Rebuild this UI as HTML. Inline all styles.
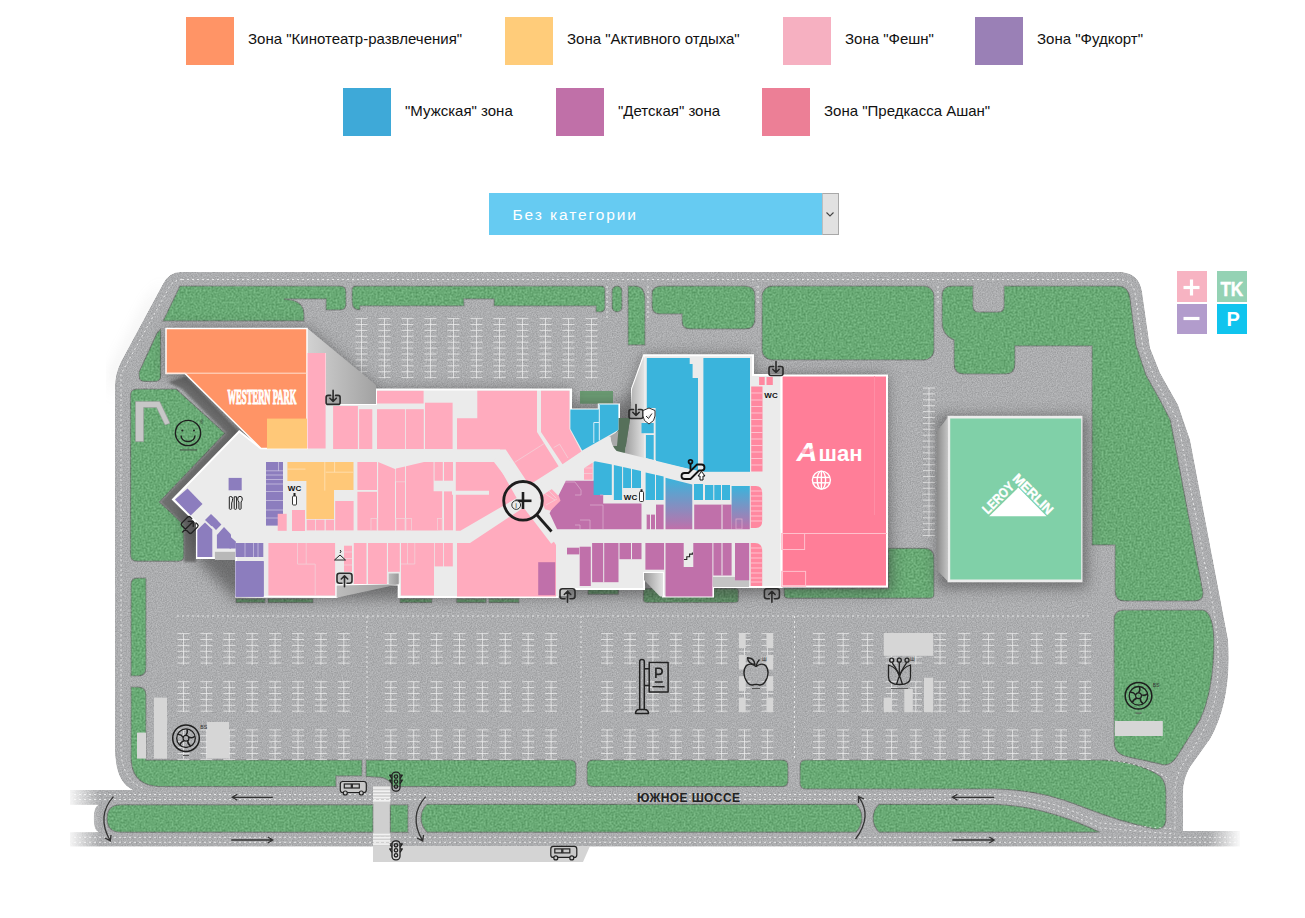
<!DOCTYPE html>
<html><head><meta charset="utf-8"><title>map</title>
<style>
html,body{margin:0;padding:0;background:#fff;}
body{width:1305px;height:918px;overflow:hidden;position:relative;font-family:"Liberation Sans",sans-serif;}
.sq{position:absolute;width:48px;height:48px}
.lb{position:absolute;font-size:15px;line-height:17px;color:#111;white-space:nowrap}
.dd{position:absolute;left:489px;top:193px;width:334px;height:42px;background:#66cbf2}
.dd span{position:absolute;left:23.5px;top:12.6px;font-size:15.5px;line-height:17px;color:#fff;letter-spacing:1.9px;white-space:nowrap}
.btn{position:absolute;left:822px;top:193px;width:15px;height:40px;background:#e1e1e1;border:1px solid #a8a8a8;border-left:1px solid #bdbdbd}
</style></head><body>
<div class="sq" style="left:186px;top:17px;background:#ff9466"></div><div class="lb" style="left:248px;top:30.3px">Зона "Кинотеатр-развлечения"</div>
<div class="sq" style="left:505px;top:17px;background:#ffcc7a"></div><div class="lb" style="left:567px;top:30.3px">Зона "Активного отдыха"</div>
<div class="sq" style="left:783px;top:17px;background:#f6b0c1"></div><div class="lb" style="left:845px;top:30.3px">Зона "Фешн"</div>
<div class="sq" style="left:975px;top:17px;background:#9a80b6"></div><div class="lb" style="left:1037px;top:30.3px">Зона "Фудкорт"</div>
<div class="sq" style="left:343px;top:88px;background:#3ea9d8"></div><div class="lb" style="left:405px;top:102.3px">"Мужская" зона</div>
<div class="sq" style="left:556px;top:88px;background:#c070a8"></div><div class="lb" style="left:618px;top:102.3px">"Детская" зона</div>
<div class="sq" style="left:762px;top:88px;background:#ec7f96"></div><div class="lb" style="left:824px;top:102.3px">Зона "Предкасса Ашан"</div>
<div class="dd"><span>Без категории</span></div>
<div class="btn"><svg width="14" height="40" style="position:absolute;left:0;top:0"><path d="M3.5,18.5 L7,22 L10.5,18.5" fill="none" stroke="#444" stroke-width="1.1"/></svg></div>
<svg width="1305" height="918" viewBox="0 0 1305 918" style="position:absolute;left:0;top:0"><defs><filter id="tex" filterUnits="userSpaceOnUse" x="0" y="250" width="1305" height="640" color-interpolation-filters="sRGB"><feTurbulence type="fractalNoise" baseFrequency="0.5" numOctaves="3" seed="4" result="n"/><feColorMatrix in="n" type="matrix" values="1 0 0 0 0  1 0 0 0 0  1 0 0 0 0  0 0 0 0 1" result="g"/><feComposite in="SourceGraphic" in2="g" operator="arithmetic" k1="0" k2="1" k3="0.28" k4="-0.14" result="m"/><feComposite in="m" in2="SourceGraphic" operator="in"/></filter><filter id="tex2" filterUnits="userSpaceOnUse" x="0" y="250" width="1305" height="640" color-interpolation-filters="sRGB"><feTurbulence type="fractalNoise" baseFrequency="0.8" numOctaves="2" seed="9" result="n"/><feColorMatrix in="n" type="matrix" values="1 0 0 0 0  1 0 0 0 0  1 0 0 0 0  0 0 0 0 1" result="g"/><feComposite in="SourceGraphic" in2="g" operator="arithmetic" k1="0" k2="1" k3="0.22" k4="-0.11" result="m"/><feComposite in="m" in2="SourceGraphic" operator="in"/></filter></defs>
<polygon points="118,372 165,282 150,300 112,372 112,400" fill="#999" opacity="0.25" filter="url(#blur6)"/>
<path d="M180,272 L1118,272 Q1139,272 1142,292 L1150,348 L1160,373 L1178,405 L1190,440 L1228,640 Q1232,700 1210,739 L1190,767 Q1183,779 1183,792 L1183,831 L1240,831 L1240,846.5 L70,846.5 L70,832.3 L100,832.3 Q93.8,832 93.8,818.5 Q93.8,805 100,804.8 L70,804.8 L70,790 L133,790 Q115,782 115,748 L115,388 Q115,374 121,362 L163,284 Q169,272 181,272 Z" fill="#acadaf" filter="url(#tex2)"/>
<path d="M373,846 L590,846 L583,862 L373,862 Z" fill="#d4d4d4" />
<rect x="373" y="786" width="17.2" height="60" fill="#cfcfcf" />
<polygon points="168,382 186,376 239.3,431.9 173,499.5 196,522 196,562 184,562 184,525 160,502 226,433 182,389" fill="#656565" opacity="0.85" filter="url(#blur1)"/>
<g stroke="#727272" stroke-width="1.4" stroke-opacity="0.55" filter="url(#tex)">
<path d="M180,286 L340,286 Q346,286 346,292 L346,304 Q346,310 340,310 L326,310 L326,299 L284,299 Q304,300 304,314 L304,321 L163,321 Z" fill="#69aa75" />
<path d="M356,286 L601,286 Q605,286 605,290 L605,307 Q605,312 600,312 L596,312 L596,306 L494,306 L494,299 L464,299 L464,306 L360,306 L360,310 Q352,310 352,302 L352,290 Q352,286 356,286 Z" fill="#69aa75" />
<rect x="612" y="286" width="10" height="26" fill="#69aa75" rx="5" />
<path d="M628,286 L635,286 Q645,286 645,300 L645,345 L628,345 Z" fill="#69aa75" />
<path d="M662,286 L745,286 Q755,286 755,296 L755,319 Q755,329 745,329 L690,329 Q682,329 682,321 L682,314 L660,314 Q652,314 652,306 L652,294 Q652,286 662,286 Z" fill="#69aa75" />
<rect x="762" y="286" width="172" height="74" fill="#69aa75" rx="10" />
<path d="M952,286 L973,286 L973,306 Q973,312 979,312 L998,312 Q1004,312 1004,306 L1004,286 L1118,286 Q1128,286 1130,298 L1136,345 L1146,375 L1160,400 L1170.4,420 L1203,592 Q1204,601 1194,601 L1125,601 Q1115,601 1115,591 L1115,545 L1092,545 L1092,346 L1015,346 L1015,364 Q1015,374 1005,374 L964,374 Q954,374 954,364 L954,340 Q942,335 942,322 L942,296 Q942,286 952,286 Z" fill="#69aa75" />
<path d="M1124,610 L1203,610 Q1213,612 1214,640 Q1214,690 1200,720 L1178,755 Q1170,768 1160,764 L1128,757 Q1114,754 1114,742 L1114,620 Q1114,610 1124,610 Z" fill="#69aa75" />
<path d="M137,389 L176.3,389 L225,433.2 L159.5,501.9 L183.9,524.7 L183.9,556 Q183.9,561.3 178,561.3 L137,561.3 Q130.5,561.3 130.5,555 L130.5,395 Q130.5,389 137,389 Z" fill="#69aa75" />
<path d="M160.8,329 L160.8,376 Q160.8,381.4 155,381.4 L144,381.4 Q139,381.4 139,376 L139,372 L157,333 Z" fill="#69aa75" />
<path d="M131,584 Q131,578 137,578 L146,578 L146,668 Q146,676 138,676 L131,676 Z" fill="#69aa75" />
<path d="M131,687 L138,687 Q146,687 146,695 L146,760 L362,760 L362,776 L336,776 L336,786.6 L160,786.6 Q131,786 131,757 Z" fill="#69aa75" />
<path d="M366,760 L570,760 Q576,760 576,766 L576,781 Q576,786.6 570,786.6 L393,786.6 Q389,778.5 381,777.5 L366,776.5 Z" fill="#69aa75" />
<path d="M593,760 L782,760 Q788,760 788,766 L788,781 Q788,786.6 782,786.6 L593,786.6 Q587,786.6 587,781 L587,766 Q587,760 593,760 Z" fill="#69aa75" />
<path d="M806,760 L1105,760 Q1140,762 1160,776 Q1166,782 1166,792 L1166,818 Q1166,830 1155,829 Q1120,822 1080,806 Q1040,790 995,789 L806,789 Q800,789 800,783 L800,766 Q800,760 806,760 Z" fill="#69aa75" />
<path d="M120.7,804.8 L373,804.8 L373,832.3 L120.7,832.3 Q107,832.3 107,818.5 Q107,804.8 120.7,804.8 Z" fill="#69aa75" />
<rect x="390.2" y="804.8" width="17.8" height="27.5" fill="#69aa75" />
<path d="M427,804.3 L856,804.3 Q862,810 862,818 Q862,826 856,832.3 L427,832.3 Q421,826 421,818 Q421,810 427,804.3 Z" fill="#69aa75" />
<path d="M879,804.3 L995,804.3 Q1045,806 1100,832.3 L879,832.3 Q873,826 873,818 Q873,810 879,804.3 Z" fill="#69aa75" />
<path d="M888.4,548.2 L924,548.2 Q934,548.2 934,558 L934,594 Q934,598.3 930,598.3 L788,598.3 Q784.1,598.3 784.1,594 L784.1,588.6 L888.4,588.6 Z" fill="#69aa75" />
<rect x="643.4" y="588.6" width="95" height="14" fill="#5f8f66" rx="3" />
<rect x="236" y="598.8" width="29" height="3.8" fill="#5f8f66" />
<rect x="268" y="598.8" width="45" height="3.8" fill="#5f8f66" />
<rect x="400" y="598.8" width="32" height="3.8" fill="#5f8f66" />
<rect x="456.6" y="598.8" width="29.399999999999977" height="3.8" fill="#5f8f66" />
<rect x="489" y="598.8" width="30" height="3.8" fill="#5f8f66" />
<rect x="588" y="588.7" width="30.4" height="5.6" fill="#5f8f66" />
</g>
<rect x="580" y="391" width="33" height="12.7" fill="#6a9a72" />
<path d="M182,279.5 L1118,279.5 Q1133,280 1135,293 L1143,348 L1153,374 L1165,398 L1177.5,420 L1214,612 Q1222,660 1215,700 Q1208,725 1195,745 L1183,764 Q1175,777 1175,792 L1175,831" stroke="#ffffff" stroke-width="1" stroke-dasharray="2 3" fill="none" opacity="0.7"/>
<path d="M182,279.5 Q174,280 170,286 L121,374 L121,748 Q121,780 145,789" stroke="#ffffff" stroke-width="1" stroke-dasharray="2 3" fill="none" opacity="0.7"/>
<path d="M177,616 L1090,616" stroke="#ffffff" stroke-width="1" stroke-dasharray="2 3" fill="none" opacity="0.7"/>
<path d="M367,616 L367,760" stroke="#ffffff" stroke-width="1" stroke-dasharray="2 3" fill="none" opacity="0.7"/>
<path d="M581,616 L581,760" stroke="#ffffff" stroke-width="1" stroke-dasharray="2 3" fill="none" opacity="0.7"/>
<path d="M794.5,616 L794.5,760" stroke="#ffffff" stroke-width="1" stroke-dasharray="2 3" fill="none" opacity="0.7"/>
<path d="M74,794.5 L995,794.5 Q1045,796 1100,823 L1175,829" stroke="#ffffff" stroke-width="1" stroke-dasharray="2 3" fill="none" opacity="0.7"/>
<path d="M74,799.5 L995,799.5 Q1045,801 1100,828 L1175,834" stroke="#ffffff" stroke-width="1" stroke-dasharray="2 3" fill="none" opacity="0.7"/>
<path d="M74,837.3 L1236,837.3" stroke="#ffffff" stroke-width="1" stroke-dasharray="2 3" fill="none" opacity="0.7"/>
<path d="M74,842.3 L1236,842.3" stroke="#ffffff" stroke-width="1" stroke-dasharray="2 3" fill="none" opacity="0.7"/>
<path d="M1108,760 Q1150,765 1170,780" stroke="#ffffff" stroke-width="1" stroke-dasharray="2 3" fill="none" opacity="0.7"/>
<path d="M938,286 L938,304" stroke="#ffffff" stroke-width="1" stroke-dasharray="2 3" fill="none" opacity="0.7"/>
<path d="M758,286 L758,304" stroke="#ffffff" stroke-width="1" stroke-dasharray="2 3" fill="none" opacity="0.7"/>
<path d="M607,286 L607,320" stroke="#ffffff" stroke-width="1" stroke-dasharray="2 3" fill="none" opacity="0.7"/>
<path d="M648,286 L648,320" stroke="#ffffff" stroke-width="1" stroke-dasharray="2 3" fill="none" opacity="0.7"/>
<path d="M361.5,318.6 L361.5,378.4 M355.5,318.6 L367.5,318.6 M355.5,324.5 L367.5,324.5 M355.5,330.4 L367.5,330.4 M355.5,336.3 L367.5,336.3 M355.5,342.2 L367.5,342.2 M355.5,348.1 L367.5,348.1 M355.5,354.0 L367.5,354.0 M355.5,359.9 L367.5,359.9 M355.5,365.8 L367.5,365.8 M355.5,371.7 L367.5,371.7 M355.5,377.6 L367.5,377.6" stroke="#f0f0f0" stroke-width="1" fill="none" opacity="0.72"/>
<path d="M384.5,318.6 L384.5,378.4 M378.5,318.6 L390.5,318.6 M378.5,324.5 L390.5,324.5 M378.5,330.4 L390.5,330.4 M378.5,336.3 L390.5,336.3 M378.5,342.2 L390.5,342.2 M378.5,348.1 L390.5,348.1 M378.5,354.0 L390.5,354.0 M378.5,359.9 L390.5,359.9 M378.5,365.8 L390.5,365.8 M378.5,371.7 L390.5,371.7 M378.5,377.6 L390.5,377.6" stroke="#f0f0f0" stroke-width="1" fill="none" opacity="0.72"/>
<path d="M407.5,318.6 L407.5,378.4 M401.5,318.6 L413.5,318.6 M401.5,324.5 L413.5,324.5 M401.5,330.4 L413.5,330.4 M401.5,336.3 L413.5,336.3 M401.5,342.2 L413.5,342.2 M401.5,348.1 L413.5,348.1 M401.5,354.0 L413.5,354.0 M401.5,359.9 L413.5,359.9 M401.5,365.8 L413.5,365.8 M401.5,371.7 L413.5,371.7 M401.5,377.6 L413.5,377.6" stroke="#f0f0f0" stroke-width="1" fill="none" opacity="0.72"/>
<path d="M430.5,318.6 L430.5,378.4 M424.5,318.6 L436.5,318.6 M424.5,324.5 L436.5,324.5 M424.5,330.4 L436.5,330.4 M424.5,336.3 L436.5,336.3 M424.5,342.2 L436.5,342.2 M424.5,348.1 L436.5,348.1 M424.5,354.0 L436.5,354.0 M424.5,359.9 L436.5,359.9 M424.5,365.8 L436.5,365.8 M424.5,371.7 L436.5,371.7 M424.5,377.6 L436.5,377.6" stroke="#f0f0f0" stroke-width="1" fill="none" opacity="0.72"/>
<path d="M453.5,318.6 L453.5,378.4 M447.5,318.6 L459.5,318.6 M447.5,324.5 L459.5,324.5 M447.5,330.4 L459.5,330.4 M447.5,336.3 L459.5,336.3 M447.5,342.2 L459.5,342.2 M447.5,348.1 L459.5,348.1 M447.5,354.0 L459.5,354.0 M447.5,359.9 L459.5,359.9 M447.5,365.8 L459.5,365.8 M447.5,371.7 L459.5,371.7 M447.5,377.6 L459.5,377.6" stroke="#f0f0f0" stroke-width="1" fill="none" opacity="0.72"/>
<path d="M476.5,318.6 L476.5,378.4 M470.5,318.6 L482.5,318.6 M470.5,324.5 L482.5,324.5 M470.5,330.4 L482.5,330.4 M470.5,336.3 L482.5,336.3 M470.5,342.2 L482.5,342.2 M470.5,348.1 L482.5,348.1 M470.5,354.0 L482.5,354.0 M470.5,359.9 L482.5,359.9 M470.5,365.8 L482.5,365.8 M470.5,371.7 L482.5,371.7 M470.5,377.6 L482.5,377.6" stroke="#f0f0f0" stroke-width="1" fill="none" opacity="0.72"/>
<path d="M499.5,318.6 L499.5,378.4 M493.5,318.6 L505.5,318.6 M493.5,324.5 L505.5,324.5 M493.5,330.4 L505.5,330.4 M493.5,336.3 L505.5,336.3 M493.5,342.2 L505.5,342.2 M493.5,348.1 L505.5,348.1 M493.5,354.0 L505.5,354.0 M493.5,359.9 L505.5,359.9 M493.5,365.8 L505.5,365.8 M493.5,371.7 L505.5,371.7 M493.5,377.6 L505.5,377.6" stroke="#f0f0f0" stroke-width="1" fill="none" opacity="0.72"/>
<path d="M522.5,318.6 L522.5,378.4 M516.5,318.6 L528.5,318.6 M516.5,324.5 L528.5,324.5 M516.5,330.4 L528.5,330.4 M516.5,336.3 L528.5,336.3 M516.5,342.2 L528.5,342.2 M516.5,348.1 L528.5,348.1 M516.5,354.0 L528.5,354.0 M516.5,359.9 L528.5,359.9 M516.5,365.8 L528.5,365.8 M516.5,371.7 L528.5,371.7 M516.5,377.6 L528.5,377.6" stroke="#f0f0f0" stroke-width="1" fill="none" opacity="0.72"/>
<path d="M545.5,318.6 L545.5,378.4 M539.5,318.6 L551.5,318.6 M539.5,324.5 L551.5,324.5 M539.5,330.4 L551.5,330.4 M539.5,336.3 L551.5,336.3 M539.5,342.2 L551.5,342.2 M539.5,348.1 L551.5,348.1 M539.5,354.0 L551.5,354.0 M539.5,359.9 L551.5,359.9 M539.5,365.8 L551.5,365.8 M539.5,371.7 L551.5,371.7 M539.5,377.6 L551.5,377.6" stroke="#f0f0f0" stroke-width="1" fill="none" opacity="0.72"/>
<path d="M568.5,318.6 L568.5,378.4 M562.5,318.6 L574.5,318.6 M562.5,324.5 L574.5,324.5 M562.5,330.4 L574.5,330.4 M562.5,336.3 L574.5,336.3 M562.5,342.2 L574.5,342.2 M562.5,348.1 L574.5,348.1 M562.5,354.0 L574.5,354.0 M562.5,359.9 L574.5,359.9 M562.5,365.8 L574.5,365.8 M562.5,371.7 L574.5,371.7 M562.5,377.6 L574.5,377.6" stroke="#f0f0f0" stroke-width="1" fill="none" opacity="0.72"/>
<path d="M591.5,318.6 L591.5,378.4 M585.5,318.6 L597.5,318.6 M585.5,324.5 L597.5,324.5 M585.5,330.4 L597.5,330.4 M585.5,336.3 L597.5,336.3 M585.5,342.2 L597.5,342.2 M585.5,348.1 L597.5,348.1 M585.5,354.0 L597.5,354.0 M585.5,359.9 L597.5,359.9 M585.5,365.8 L597.5,365.8 M585.5,371.7 L597.5,371.7 M585.5,377.6 L597.5,377.6" stroke="#f0f0f0" stroke-width="1" fill="none" opacity="0.72"/>
<path d="M929.0,388.0 L929.0,537.0 M923.0,388.0 L935.0,388.0 M923.0,393.9 L935.0,393.9 M923.0,399.8 L935.0,399.8 M923.0,405.7 L935.0,405.7 M923.0,411.6 L935.0,411.6 M923.0,417.5 L935.0,417.5 M923.0,423.4 L935.0,423.4 M923.0,429.3 L935.0,429.3 M923.0,435.2 L935.0,435.2 M923.0,441.1 L935.0,441.1 M923.0,447.0 L935.0,447.0 M923.0,452.9 L935.0,452.9 M923.0,458.8 L935.0,458.8 M923.0,464.7 L935.0,464.7 M923.0,470.6 L935.0,470.6 M923.0,476.5 L935.0,476.5 M923.0,482.4 L935.0,482.4 M923.0,488.3 L935.0,488.3 M923.0,494.2 L935.0,494.2 M923.0,500.1 L935.0,500.1 M923.0,506.0 L935.0,506.0 M923.0,511.9 L935.0,511.9 M923.0,517.8 L935.0,517.8 M923.0,523.7 L935.0,523.7 M923.0,529.6 L935.0,529.6 M923.0,535.5 L935.0,535.5" stroke="#f0f0f0" stroke-width="1" fill="none" opacity="0.72"/>
<path d="M183.5,633.6 L183.5,664.7 M177.5,633.6 L189.5,633.6 M177.5,639.5 L189.5,639.5 M177.5,645.4 L189.5,645.4 M177.5,651.3 L189.5,651.3 M177.5,657.2 L189.5,657.2 M177.5,663.1 L189.5,663.1" stroke="#f0f0f0" stroke-width="1" fill="none" opacity="0.72"/>
<path d="M206.4,633.6 L206.4,664.7 M200.4,633.6 L212.4,633.6 M200.4,639.5 L212.4,639.5 M200.4,645.4 L212.4,645.4 M200.4,651.3 L212.4,651.3 M200.4,657.2 L212.4,657.2 M200.4,663.1 L212.4,663.1" stroke="#f0f0f0" stroke-width="1" fill="none" opacity="0.72"/>
<path d="M229.3,633.6 L229.3,664.7 M223.3,633.6 L235.3,633.6 M223.3,639.5 L235.3,639.5 M223.3,645.4 L235.3,645.4 M223.3,651.3 L235.3,651.3 M223.3,657.2 L235.3,657.2 M223.3,663.1 L235.3,663.1" stroke="#f0f0f0" stroke-width="1" fill="none" opacity="0.72"/>
<path d="M252.2,633.6 L252.2,664.7 M246.2,633.6 L258.2,633.6 M246.2,639.5 L258.2,639.5 M246.2,645.4 L258.2,645.4 M246.2,651.3 L258.2,651.3 M246.2,657.2 L258.2,657.2 M246.2,663.1 L258.2,663.1" stroke="#f0f0f0" stroke-width="1" fill="none" opacity="0.72"/>
<path d="M275.1,633.6 L275.1,664.7 M269.1,633.6 L281.1,633.6 M269.1,639.5 L281.1,639.5 M269.1,645.4 L281.1,645.4 M269.1,651.3 L281.1,651.3 M269.1,657.2 L281.1,657.2 M269.1,663.1 L281.1,663.1" stroke="#f0f0f0" stroke-width="1" fill="none" opacity="0.72"/>
<path d="M298.0,633.6 L298.0,664.7 M292.0,633.6 L304.0,633.6 M292.0,639.5 L304.0,639.5 M292.0,645.4 L304.0,645.4 M292.0,651.3 L304.0,651.3 M292.0,657.2 L304.0,657.2 M292.0,663.1 L304.0,663.1" stroke="#f0f0f0" stroke-width="1" fill="none" opacity="0.72"/>
<path d="M320.9,633.6 L320.9,664.7 M314.9,633.6 L326.9,633.6 M314.9,639.5 L326.9,639.5 M314.9,645.4 L326.9,645.4 M314.9,651.3 L326.9,651.3 M314.9,657.2 L326.9,657.2 M314.9,663.1 L326.9,663.1" stroke="#f0f0f0" stroke-width="1" fill="none" opacity="0.72"/>
<path d="M343.8,633.6 L343.8,664.7 M337.8,633.6 L349.8,633.6 M337.8,639.5 L349.8,639.5 M337.8,645.4 L349.8,645.4 M337.8,651.3 L349.8,651.3 M337.8,657.2 L349.8,657.2 M337.8,663.1 L349.8,663.1" stroke="#f0f0f0" stroke-width="1" fill="none" opacity="0.72"/>
<path d="M390.8,633.6 L390.8,664.7 M384.8,633.6 L396.8,633.6 M384.8,639.5 L396.8,639.5 M384.8,645.4 L396.8,645.4 M384.8,651.3 L396.8,651.3 M384.8,657.2 L396.8,657.2 M384.8,663.1 L396.8,663.1" stroke="#f0f0f0" stroke-width="1" fill="none" opacity="0.72"/>
<path d="M413.7,633.6 L413.7,664.7 M407.7,633.6 L419.7,633.6 M407.7,639.5 L419.7,639.5 M407.7,645.4 L419.7,645.4 M407.7,651.3 L419.7,651.3 M407.7,657.2 L419.7,657.2 M407.7,663.1 L419.7,663.1" stroke="#f0f0f0" stroke-width="1" fill="none" opacity="0.72"/>
<path d="M436.6,633.6 L436.6,664.7 M430.6,633.6 L442.6,633.6 M430.6,639.5 L442.6,639.5 M430.6,645.4 L442.6,645.4 M430.6,651.3 L442.6,651.3 M430.6,657.2 L442.6,657.2 M430.6,663.1 L442.6,663.1" stroke="#f0f0f0" stroke-width="1" fill="none" opacity="0.72"/>
<path d="M459.5,633.6 L459.5,664.7 M453.5,633.6 L465.5,633.6 M453.5,639.5 L465.5,639.5 M453.5,645.4 L465.5,645.4 M453.5,651.3 L465.5,651.3 M453.5,657.2 L465.5,657.2 M453.5,663.1 L465.5,663.1" stroke="#f0f0f0" stroke-width="1" fill="none" opacity="0.72"/>
<path d="M482.4,633.6 L482.4,664.7 M476.4,633.6 L488.4,633.6 M476.4,639.5 L488.4,639.5 M476.4,645.4 L488.4,645.4 M476.4,651.3 L488.4,651.3 M476.4,657.2 L488.4,657.2 M476.4,663.1 L488.4,663.1" stroke="#f0f0f0" stroke-width="1" fill="none" opacity="0.72"/>
<path d="M505.3,633.6 L505.3,664.7 M499.3,633.6 L511.3,633.6 M499.3,639.5 L511.3,639.5 M499.3,645.4 L511.3,645.4 M499.3,651.3 L511.3,651.3 M499.3,657.2 L511.3,657.2 M499.3,663.1 L511.3,663.1" stroke="#f0f0f0" stroke-width="1" fill="none" opacity="0.72"/>
<path d="M528.2,633.6 L528.2,664.7 M522.2,633.6 L534.2,633.6 M522.2,639.5 L534.2,639.5 M522.2,645.4 L534.2,645.4 M522.2,651.3 L534.2,651.3 M522.2,657.2 L534.2,657.2 M522.2,663.1 L534.2,663.1" stroke="#f0f0f0" stroke-width="1" fill="none" opacity="0.72"/>
<path d="M551.1,633.6 L551.1,664.7 M545.1,633.6 L557.1,633.6 M545.1,639.5 L557.1,639.5 M545.1,645.4 L557.1,645.4 M545.1,651.3 L557.1,651.3 M545.1,657.2 L557.1,657.2 M545.1,663.1 L557.1,663.1" stroke="#f0f0f0" stroke-width="1" fill="none" opacity="0.72"/>
<path d="M607.1,633.6 L607.1,664.7 M601.1,633.6 L613.1,633.6 M601.1,639.5 L613.1,639.5 M601.1,645.4 L613.1,645.4 M601.1,651.3 L613.1,651.3 M601.1,657.2 L613.1,657.2 M601.1,663.1 L613.1,663.1" stroke="#f0f0f0" stroke-width="1" fill="none" opacity="0.72"/>
<path d="M630.0,633.6 L630.0,664.7 M624.0,633.6 L636.0,633.6 M624.0,639.5 L636.0,639.5 M624.0,645.4 L636.0,645.4 M624.0,651.3 L636.0,651.3 M624.0,657.2 L636.0,657.2 M624.0,663.1 L636.0,663.1" stroke="#f0f0f0" stroke-width="1" fill="none" opacity="0.72"/>
<path d="M652.9,633.6 L652.9,664.7 M646.9,633.6 L658.9,633.6 M646.9,639.5 L658.9,639.5 M646.9,645.4 L658.9,645.4 M646.9,651.3 L658.9,651.3 M646.9,657.2 L658.9,657.2 M646.9,663.1 L658.9,663.1" stroke="#f0f0f0" stroke-width="1" fill="none" opacity="0.72"/>
<path d="M675.8,633.6 L675.8,664.7 M669.8,633.6 L681.8,633.6 M669.8,639.5 L681.8,639.5 M669.8,645.4 L681.8,645.4 M669.8,651.3 L681.8,651.3 M669.8,657.2 L681.8,657.2 M669.8,663.1 L681.8,663.1" stroke="#f0f0f0" stroke-width="1" fill="none" opacity="0.72"/>
<path d="M698.7,633.6 L698.7,664.7 M692.7,633.6 L704.7,633.6 M692.7,639.5 L704.7,639.5 M692.7,645.4 L704.7,645.4 M692.7,651.3 L704.7,651.3 M692.7,657.2 L704.7,657.2 M692.7,663.1 L704.7,663.1" stroke="#f0f0f0" stroke-width="1" fill="none" opacity="0.72"/>
<path d="M721.6,633.6 L721.6,664.7 M715.6,633.6 L727.6,633.6 M715.6,639.5 L727.6,639.5 M715.6,645.4 L727.6,645.4 M715.6,651.3 L727.6,651.3 M715.6,657.2 L727.6,657.2 M715.6,663.1 L727.6,663.1" stroke="#f0f0f0" stroke-width="1" fill="none" opacity="0.72"/>
<path d="M744.5,633.6 L744.5,664.7 M738.5,633.6 L750.5,633.6 M738.5,639.5 L750.5,639.5 M738.5,645.4 L750.5,645.4 M738.5,651.3 L750.5,651.3 M738.5,657.2 L750.5,657.2 M738.5,663.1 L750.5,663.1" stroke="#f0f0f0" stroke-width="1" fill="none" opacity="0.72"/>
<path d="M767.4,633.6 L767.4,664.7 M761.4,633.6 L773.4,633.6 M761.4,639.5 L773.4,639.5 M761.4,645.4 L773.4,645.4 M761.4,651.3 L773.4,651.3 M761.4,657.2 L773.4,657.2 M761.4,663.1 L773.4,663.1" stroke="#f0f0f0" stroke-width="1" fill="none" opacity="0.72"/>
<path d="M819.0,633.6 L819.0,664.7 M813.0,633.6 L825.0,633.6 M813.0,639.5 L825.0,639.5 M813.0,645.4 L825.0,645.4 M813.0,651.3 L825.0,651.3 M813.0,657.2 L825.0,657.2 M813.0,663.1 L825.0,663.1" stroke="#f0f0f0" stroke-width="1" fill="none" opacity="0.72"/>
<path d="M843.2,633.6 L843.2,664.7 M837.2,633.6 L849.2,633.6 M837.2,639.5 L849.2,639.5 M837.2,645.4 L849.2,645.4 M837.2,651.3 L849.2,651.3 M837.2,657.2 L849.2,657.2 M837.2,663.1 L849.2,663.1" stroke="#f0f0f0" stroke-width="1" fill="none" opacity="0.72"/>
<path d="M867.4,633.6 L867.4,664.7 M861.4,633.6 L873.4,633.6 M861.4,639.5 L873.4,639.5 M861.4,645.4 L873.4,645.4 M861.4,651.3 L873.4,651.3 M861.4,657.2 L873.4,657.2 M861.4,663.1 L873.4,663.1" stroke="#f0f0f0" stroke-width="1" fill="none" opacity="0.72"/>
<path d="M891.6,633.6 L891.6,664.7 M885.6,633.6 L897.6,633.6 M885.6,639.5 L897.6,639.5 M885.6,645.4 L897.6,645.4 M885.6,651.3 L897.6,651.3 M885.6,657.2 L897.6,657.2 M885.6,663.1 L897.6,663.1" stroke="#f0f0f0" stroke-width="1" fill="none" opacity="0.72"/>
<path d="M915.8,633.6 L915.8,664.7 M909.8,633.6 L921.8,633.6 M909.8,639.5 L921.8,639.5 M909.8,645.4 L921.8,645.4 M909.8,651.3 L921.8,651.3 M909.8,657.2 L921.8,657.2 M909.8,663.1 L921.8,663.1" stroke="#f0f0f0" stroke-width="1" fill="none" opacity="0.72"/>
<path d="M940.0,633.6 L940.0,664.7 M934.0,633.6 L946.0,633.6 M934.0,639.5 L946.0,639.5 M934.0,645.4 L946.0,645.4 M934.0,651.3 L946.0,651.3 M934.0,657.2 L946.0,657.2 M934.0,663.1 L946.0,663.1" stroke="#f0f0f0" stroke-width="1" fill="none" opacity="0.72"/>
<path d="M964.2,633.6 L964.2,664.7 M958.2,633.6 L970.2,633.6 M958.2,639.5 L970.2,639.5 M958.2,645.4 L970.2,645.4 M958.2,651.3 L970.2,651.3 M958.2,657.2 L970.2,657.2 M958.2,663.1 L970.2,663.1" stroke="#f0f0f0" stroke-width="1" fill="none" opacity="0.72"/>
<path d="M988.4,633.6 L988.4,664.7 M982.4,633.6 L994.4,633.6 M982.4,639.5 L994.4,639.5 M982.4,645.4 L994.4,645.4 M982.4,651.3 L994.4,651.3 M982.4,657.2 L994.4,657.2 M982.4,663.1 L994.4,663.1" stroke="#f0f0f0" stroke-width="1" fill="none" opacity="0.72"/>
<path d="M1012.6,633.6 L1012.6,664.7 M1006.6,633.6 L1018.6,633.6 M1006.6,639.5 L1018.6,639.5 M1006.6,645.4 L1018.6,645.4 M1006.6,651.3 L1018.6,651.3 M1006.6,657.2 L1018.6,657.2 M1006.6,663.1 L1018.6,663.1" stroke="#f0f0f0" stroke-width="1" fill="none" opacity="0.72"/>
<path d="M1036.8,633.6 L1036.8,664.7 M1030.8,633.6 L1042.8,633.6 M1030.8,639.5 L1042.8,639.5 M1030.8,645.4 L1042.8,645.4 M1030.8,651.3 L1042.8,651.3 M1030.8,657.2 L1042.8,657.2 M1030.8,663.1 L1042.8,663.1" stroke="#f0f0f0" stroke-width="1" fill="none" opacity="0.72"/>
<path d="M1061.0,633.6 L1061.0,664.7 M1055.0,633.6 L1067.0,633.6 M1055.0,639.5 L1067.0,639.5 M1055.0,645.4 L1067.0,645.4 M1055.0,651.3 L1067.0,651.3 M1055.0,657.2 L1067.0,657.2 M1055.0,663.1 L1067.0,663.1" stroke="#f0f0f0" stroke-width="1" fill="none" opacity="0.72"/>
<path d="M1085.2,633.6 L1085.2,664.7 M1079.2,633.6 L1091.2,633.6 M1079.2,639.5 L1091.2,639.5 M1079.2,645.4 L1091.2,645.4 M1079.2,651.3 L1091.2,651.3 M1079.2,657.2 L1091.2,657.2 M1079.2,663.1 L1091.2,663.1" stroke="#f0f0f0" stroke-width="1" fill="none" opacity="0.72"/>
<path d="M183.5,681.7 L183.5,712.0 M177.5,681.7 L189.5,681.7 M177.5,687.6 L189.5,687.6 M177.5,693.5 L189.5,693.5 M177.5,699.4 L189.5,699.4 M177.5,705.3 L189.5,705.3 M177.5,711.2 L189.5,711.2" stroke="#f0f0f0" stroke-width="1" fill="none" opacity="0.72"/>
<path d="M206.4,681.7 L206.4,712.0 M200.4,681.7 L212.4,681.7 M200.4,687.6 L212.4,687.6 M200.4,693.5 L212.4,693.5 M200.4,699.4 L212.4,699.4 M200.4,705.3 L212.4,705.3 M200.4,711.2 L212.4,711.2" stroke="#f0f0f0" stroke-width="1" fill="none" opacity="0.72"/>
<path d="M229.3,681.7 L229.3,712.0 M223.3,681.7 L235.3,681.7 M223.3,687.6 L235.3,687.6 M223.3,693.5 L235.3,693.5 M223.3,699.4 L235.3,699.4 M223.3,705.3 L235.3,705.3 M223.3,711.2 L235.3,711.2" stroke="#f0f0f0" stroke-width="1" fill="none" opacity="0.72"/>
<path d="M252.2,681.7 L252.2,712.0 M246.2,681.7 L258.2,681.7 M246.2,687.6 L258.2,687.6 M246.2,693.5 L258.2,693.5 M246.2,699.4 L258.2,699.4 M246.2,705.3 L258.2,705.3 M246.2,711.2 L258.2,711.2" stroke="#f0f0f0" stroke-width="1" fill="none" opacity="0.72"/>
<path d="M275.1,681.7 L275.1,712.0 M269.1,681.7 L281.1,681.7 M269.1,687.6 L281.1,687.6 M269.1,693.5 L281.1,693.5 M269.1,699.4 L281.1,699.4 M269.1,705.3 L281.1,705.3 M269.1,711.2 L281.1,711.2" stroke="#f0f0f0" stroke-width="1" fill="none" opacity="0.72"/>
<path d="M298.0,681.7 L298.0,712.0 M292.0,681.7 L304.0,681.7 M292.0,687.6 L304.0,687.6 M292.0,693.5 L304.0,693.5 M292.0,699.4 L304.0,699.4 M292.0,705.3 L304.0,705.3 M292.0,711.2 L304.0,711.2" stroke="#f0f0f0" stroke-width="1" fill="none" opacity="0.72"/>
<path d="M320.9,681.7 L320.9,712.0 M314.9,681.7 L326.9,681.7 M314.9,687.6 L326.9,687.6 M314.9,693.5 L326.9,693.5 M314.9,699.4 L326.9,699.4 M314.9,705.3 L326.9,705.3 M314.9,711.2 L326.9,711.2" stroke="#f0f0f0" stroke-width="1" fill="none" opacity="0.72"/>
<path d="M343.8,681.7 L343.8,712.0 M337.8,681.7 L349.8,681.7 M337.8,687.6 L349.8,687.6 M337.8,693.5 L349.8,693.5 M337.8,699.4 L349.8,699.4 M337.8,705.3 L349.8,705.3 M337.8,711.2 L349.8,711.2" stroke="#f0f0f0" stroke-width="1" fill="none" opacity="0.72"/>
<path d="M390.8,681.7 L390.8,712.0 M384.8,681.7 L396.8,681.7 M384.8,687.6 L396.8,687.6 M384.8,693.5 L396.8,693.5 M384.8,699.4 L396.8,699.4 M384.8,705.3 L396.8,705.3 M384.8,711.2 L396.8,711.2" stroke="#f0f0f0" stroke-width="1" fill="none" opacity="0.72"/>
<path d="M413.7,681.7 L413.7,712.0 M407.7,681.7 L419.7,681.7 M407.7,687.6 L419.7,687.6 M407.7,693.5 L419.7,693.5 M407.7,699.4 L419.7,699.4 M407.7,705.3 L419.7,705.3 M407.7,711.2 L419.7,711.2" stroke="#f0f0f0" stroke-width="1" fill="none" opacity="0.72"/>
<path d="M436.6,681.7 L436.6,712.0 M430.6,681.7 L442.6,681.7 M430.6,687.6 L442.6,687.6 M430.6,693.5 L442.6,693.5 M430.6,699.4 L442.6,699.4 M430.6,705.3 L442.6,705.3 M430.6,711.2 L442.6,711.2" stroke="#f0f0f0" stroke-width="1" fill="none" opacity="0.72"/>
<path d="M459.5,681.7 L459.5,712.0 M453.5,681.7 L465.5,681.7 M453.5,687.6 L465.5,687.6 M453.5,693.5 L465.5,693.5 M453.5,699.4 L465.5,699.4 M453.5,705.3 L465.5,705.3 M453.5,711.2 L465.5,711.2" stroke="#f0f0f0" stroke-width="1" fill="none" opacity="0.72"/>
<path d="M482.4,681.7 L482.4,712.0 M476.4,681.7 L488.4,681.7 M476.4,687.6 L488.4,687.6 M476.4,693.5 L488.4,693.5 M476.4,699.4 L488.4,699.4 M476.4,705.3 L488.4,705.3 M476.4,711.2 L488.4,711.2" stroke="#f0f0f0" stroke-width="1" fill="none" opacity="0.72"/>
<path d="M505.3,681.7 L505.3,712.0 M499.3,681.7 L511.3,681.7 M499.3,687.6 L511.3,687.6 M499.3,693.5 L511.3,693.5 M499.3,699.4 L511.3,699.4 M499.3,705.3 L511.3,705.3 M499.3,711.2 L511.3,711.2" stroke="#f0f0f0" stroke-width="1" fill="none" opacity="0.72"/>
<path d="M528.2,681.7 L528.2,712.0 M522.2,681.7 L534.2,681.7 M522.2,687.6 L534.2,687.6 M522.2,693.5 L534.2,693.5 M522.2,699.4 L534.2,699.4 M522.2,705.3 L534.2,705.3 M522.2,711.2 L534.2,711.2" stroke="#f0f0f0" stroke-width="1" fill="none" opacity="0.72"/>
<path d="M551.1,681.7 L551.1,712.0 M545.1,681.7 L557.1,681.7 M545.1,687.6 L557.1,687.6 M545.1,693.5 L557.1,693.5 M545.1,699.4 L557.1,699.4 M545.1,705.3 L557.1,705.3 M545.1,711.2 L557.1,711.2" stroke="#f0f0f0" stroke-width="1" fill="none" opacity="0.72"/>
<path d="M607.1,681.7 L607.1,712.0 M601.1,681.7 L613.1,681.7 M601.1,687.6 L613.1,687.6 M601.1,693.5 L613.1,693.5 M601.1,699.4 L613.1,699.4 M601.1,705.3 L613.1,705.3 M601.1,711.2 L613.1,711.2" stroke="#f0f0f0" stroke-width="1" fill="none" opacity="0.72"/>
<path d="M630.0,681.7 L630.0,712.0 M624.0,681.7 L636.0,681.7 M624.0,687.6 L636.0,687.6 M624.0,693.5 L636.0,693.5 M624.0,699.4 L636.0,699.4 M624.0,705.3 L636.0,705.3 M624.0,711.2 L636.0,711.2" stroke="#f0f0f0" stroke-width="1" fill="none" opacity="0.72"/>
<path d="M652.9,681.7 L652.9,712.0 M646.9,681.7 L658.9,681.7 M646.9,687.6 L658.9,687.6 M646.9,693.5 L658.9,693.5 M646.9,699.4 L658.9,699.4 M646.9,705.3 L658.9,705.3 M646.9,711.2 L658.9,711.2" stroke="#f0f0f0" stroke-width="1" fill="none" opacity="0.72"/>
<path d="M675.8,681.7 L675.8,712.0 M669.8,681.7 L681.8,681.7 M669.8,687.6 L681.8,687.6 M669.8,693.5 L681.8,693.5 M669.8,699.4 L681.8,699.4 M669.8,705.3 L681.8,705.3 M669.8,711.2 L681.8,711.2" stroke="#f0f0f0" stroke-width="1" fill="none" opacity="0.72"/>
<path d="M698.7,681.7 L698.7,712.0 M692.7,681.7 L704.7,681.7 M692.7,687.6 L704.7,687.6 M692.7,693.5 L704.7,693.5 M692.7,699.4 L704.7,699.4 M692.7,705.3 L704.7,705.3 M692.7,711.2 L704.7,711.2" stroke="#f0f0f0" stroke-width="1" fill="none" opacity="0.72"/>
<path d="M721.6,681.7 L721.6,712.0 M715.6,681.7 L727.6,681.7 M715.6,687.6 L727.6,687.6 M715.6,693.5 L727.6,693.5 M715.6,699.4 L727.6,699.4 M715.6,705.3 L727.6,705.3 M715.6,711.2 L727.6,711.2" stroke="#f0f0f0" stroke-width="1" fill="none" opacity="0.72"/>
<path d="M744.5,681.7 L744.5,712.0 M738.5,681.7 L750.5,681.7 M738.5,687.6 L750.5,687.6 M738.5,693.5 L750.5,693.5 M738.5,699.4 L750.5,699.4 M738.5,705.3 L750.5,705.3 M738.5,711.2 L750.5,711.2" stroke="#f0f0f0" stroke-width="1" fill="none" opacity="0.72"/>
<path d="M767.4,681.7 L767.4,712.0 M761.4,681.7 L773.4,681.7 M761.4,687.6 L773.4,687.6 M761.4,693.5 L773.4,693.5 M761.4,699.4 L773.4,699.4 M761.4,705.3 L773.4,705.3 M761.4,711.2 L773.4,711.2" stroke="#f0f0f0" stroke-width="1" fill="none" opacity="0.72"/>
<path d="M819.0,681.7 L819.0,712.0 M813.0,681.7 L825.0,681.7 M813.0,687.6 L825.0,687.6 M813.0,693.5 L825.0,693.5 M813.0,699.4 L825.0,699.4 M813.0,705.3 L825.0,705.3 M813.0,711.2 L825.0,711.2" stroke="#f0f0f0" stroke-width="1" fill="none" opacity="0.72"/>
<path d="M843.2,681.7 L843.2,712.0 M837.2,681.7 L849.2,681.7 M837.2,687.6 L849.2,687.6 M837.2,693.5 L849.2,693.5 M837.2,699.4 L849.2,699.4 M837.2,705.3 L849.2,705.3 M837.2,711.2 L849.2,711.2" stroke="#f0f0f0" stroke-width="1" fill="none" opacity="0.72"/>
<path d="M867.4,681.7 L867.4,712.0 M861.4,681.7 L873.4,681.7 M861.4,687.6 L873.4,687.6 M861.4,693.5 L873.4,693.5 M861.4,699.4 L873.4,699.4 M861.4,705.3 L873.4,705.3 M861.4,711.2 L873.4,711.2" stroke="#f0f0f0" stroke-width="1" fill="none" opacity="0.72"/>
<path d="M891.6,681.7 L891.6,712.0 M885.6,681.7 L897.6,681.7 M885.6,687.6 L897.6,687.6 M885.6,693.5 L897.6,693.5 M885.6,699.4 L897.6,699.4 M885.6,705.3 L897.6,705.3 M885.6,711.2 L897.6,711.2" stroke="#f0f0f0" stroke-width="1" fill="none" opacity="0.72"/>
<path d="M915.8,681.7 L915.8,712.0 M909.8,681.7 L921.8,681.7 M909.8,687.6 L921.8,687.6 M909.8,693.5 L921.8,693.5 M909.8,699.4 L921.8,699.4 M909.8,705.3 L921.8,705.3 M909.8,711.2 L921.8,711.2" stroke="#f0f0f0" stroke-width="1" fill="none" opacity="0.72"/>
<path d="M940.0,681.7 L940.0,712.0 M934.0,681.7 L946.0,681.7 M934.0,687.6 L946.0,687.6 M934.0,693.5 L946.0,693.5 M934.0,699.4 L946.0,699.4 M934.0,705.3 L946.0,705.3 M934.0,711.2 L946.0,711.2" stroke="#f0f0f0" stroke-width="1" fill="none" opacity="0.72"/>
<path d="M964.2,681.7 L964.2,712.0 M958.2,681.7 L970.2,681.7 M958.2,687.6 L970.2,687.6 M958.2,693.5 L970.2,693.5 M958.2,699.4 L970.2,699.4 M958.2,705.3 L970.2,705.3 M958.2,711.2 L970.2,711.2" stroke="#f0f0f0" stroke-width="1" fill="none" opacity="0.72"/>
<path d="M988.4,681.7 L988.4,712.0 M982.4,681.7 L994.4,681.7 M982.4,687.6 L994.4,687.6 M982.4,693.5 L994.4,693.5 M982.4,699.4 L994.4,699.4 M982.4,705.3 L994.4,705.3 M982.4,711.2 L994.4,711.2" stroke="#f0f0f0" stroke-width="1" fill="none" opacity="0.72"/>
<path d="M1012.6,681.7 L1012.6,712.0 M1006.6,681.7 L1018.6,681.7 M1006.6,687.6 L1018.6,687.6 M1006.6,693.5 L1018.6,693.5 M1006.6,699.4 L1018.6,699.4 M1006.6,705.3 L1018.6,705.3 M1006.6,711.2 L1018.6,711.2" stroke="#f0f0f0" stroke-width="1" fill="none" opacity="0.72"/>
<path d="M1036.8,681.7 L1036.8,712.0 M1030.8,681.7 L1042.8,681.7 M1030.8,687.6 L1042.8,687.6 M1030.8,693.5 L1042.8,693.5 M1030.8,699.4 L1042.8,699.4 M1030.8,705.3 L1042.8,705.3 M1030.8,711.2 L1042.8,711.2" stroke="#f0f0f0" stroke-width="1" fill="none" opacity="0.72"/>
<path d="M1061.0,681.7 L1061.0,712.0 M1055.0,681.7 L1067.0,681.7 M1055.0,687.6 L1067.0,687.6 M1055.0,693.5 L1067.0,693.5 M1055.0,699.4 L1067.0,699.4 M1055.0,705.3 L1067.0,705.3 M1055.0,711.2 L1067.0,711.2" stroke="#f0f0f0" stroke-width="1" fill="none" opacity="0.72"/>
<path d="M1085.2,681.7 L1085.2,712.0 M1079.2,681.7 L1091.2,681.7 M1079.2,687.6 L1091.2,687.6 M1079.2,693.5 L1091.2,693.5 M1079.2,699.4 L1091.2,699.4 M1079.2,705.3 L1091.2,705.3 M1079.2,711.2 L1091.2,711.2" stroke="#f0f0f0" stroke-width="1" fill="none" opacity="0.72"/>
<path d="M183.5,729.9 L183.5,759.3 M177.5,729.9 L189.5,729.9 M177.5,735.8 L189.5,735.8 M177.5,741.7 L189.5,741.7 M177.5,747.6 L189.5,747.6 M177.5,753.5 L189.5,753.5 M177.5,759.4 L189.5,759.4" stroke="#f0f0f0" stroke-width="1" fill="none" opacity="0.72"/>
<path d="M206.4,729.9 L206.4,759.3 M200.4,729.9 L212.4,729.9 M200.4,735.8 L212.4,735.8 M200.4,741.7 L212.4,741.7 M200.4,747.6 L212.4,747.6 M200.4,753.5 L212.4,753.5 M200.4,759.4 L212.4,759.4" stroke="#f0f0f0" stroke-width="1" fill="none" opacity="0.72"/>
<path d="M229.3,729.9 L229.3,759.3 M223.3,729.9 L235.3,729.9 M223.3,735.8 L235.3,735.8 M223.3,741.7 L235.3,741.7 M223.3,747.6 L235.3,747.6 M223.3,753.5 L235.3,753.5 M223.3,759.4 L235.3,759.4" stroke="#f0f0f0" stroke-width="1" fill="none" opacity="0.72"/>
<path d="M252.2,729.9 L252.2,759.3 M246.2,729.9 L258.2,729.9 M246.2,735.8 L258.2,735.8 M246.2,741.7 L258.2,741.7 M246.2,747.6 L258.2,747.6 M246.2,753.5 L258.2,753.5 M246.2,759.4 L258.2,759.4" stroke="#f0f0f0" stroke-width="1" fill="none" opacity="0.72"/>
<path d="M275.1,729.9 L275.1,759.3 M269.1,729.9 L281.1,729.9 M269.1,735.8 L281.1,735.8 M269.1,741.7 L281.1,741.7 M269.1,747.6 L281.1,747.6 M269.1,753.5 L281.1,753.5 M269.1,759.4 L281.1,759.4" stroke="#f0f0f0" stroke-width="1" fill="none" opacity="0.72"/>
<path d="M298.0,729.9 L298.0,759.3 M292.0,729.9 L304.0,729.9 M292.0,735.8 L304.0,735.8 M292.0,741.7 L304.0,741.7 M292.0,747.6 L304.0,747.6 M292.0,753.5 L304.0,753.5 M292.0,759.4 L304.0,759.4" stroke="#f0f0f0" stroke-width="1" fill="none" opacity="0.72"/>
<path d="M320.9,729.9 L320.9,759.3 M314.9,729.9 L326.9,729.9 M314.9,735.8 L326.9,735.8 M314.9,741.7 L326.9,741.7 M314.9,747.6 L326.9,747.6 M314.9,753.5 L326.9,753.5 M314.9,759.4 L326.9,759.4" stroke="#f0f0f0" stroke-width="1" fill="none" opacity="0.72"/>
<path d="M343.8,729.9 L343.8,759.3 M337.8,729.9 L349.8,729.9 M337.8,735.8 L349.8,735.8 M337.8,741.7 L349.8,741.7 M337.8,747.6 L349.8,747.6 M337.8,753.5 L349.8,753.5 M337.8,759.4 L349.8,759.4" stroke="#f0f0f0" stroke-width="1" fill="none" opacity="0.72"/>
<path d="M390.8,729.9 L390.8,759.3 M384.8,729.9 L396.8,729.9 M384.8,735.8 L396.8,735.8 M384.8,741.7 L396.8,741.7 M384.8,747.6 L396.8,747.6 M384.8,753.5 L396.8,753.5 M384.8,759.4 L396.8,759.4" stroke="#f0f0f0" stroke-width="1" fill="none" opacity="0.72"/>
<path d="M413.7,729.9 L413.7,759.3 M407.7,729.9 L419.7,729.9 M407.7,735.8 L419.7,735.8 M407.7,741.7 L419.7,741.7 M407.7,747.6 L419.7,747.6 M407.7,753.5 L419.7,753.5 M407.7,759.4 L419.7,759.4" stroke="#f0f0f0" stroke-width="1" fill="none" opacity="0.72"/>
<path d="M436.6,729.9 L436.6,759.3 M430.6,729.9 L442.6,729.9 M430.6,735.8 L442.6,735.8 M430.6,741.7 L442.6,741.7 M430.6,747.6 L442.6,747.6 M430.6,753.5 L442.6,753.5 M430.6,759.4 L442.6,759.4" stroke="#f0f0f0" stroke-width="1" fill="none" opacity="0.72"/>
<path d="M459.5,729.9 L459.5,759.3 M453.5,729.9 L465.5,729.9 M453.5,735.8 L465.5,735.8 M453.5,741.7 L465.5,741.7 M453.5,747.6 L465.5,747.6 M453.5,753.5 L465.5,753.5 M453.5,759.4 L465.5,759.4" stroke="#f0f0f0" stroke-width="1" fill="none" opacity="0.72"/>
<path d="M482.4,729.9 L482.4,759.3 M476.4,729.9 L488.4,729.9 M476.4,735.8 L488.4,735.8 M476.4,741.7 L488.4,741.7 M476.4,747.6 L488.4,747.6 M476.4,753.5 L488.4,753.5 M476.4,759.4 L488.4,759.4" stroke="#f0f0f0" stroke-width="1" fill="none" opacity="0.72"/>
<path d="M505.3,729.9 L505.3,759.3 M499.3,729.9 L511.3,729.9 M499.3,735.8 L511.3,735.8 M499.3,741.7 L511.3,741.7 M499.3,747.6 L511.3,747.6 M499.3,753.5 L511.3,753.5 M499.3,759.4 L511.3,759.4" stroke="#f0f0f0" stroke-width="1" fill="none" opacity="0.72"/>
<path d="M528.2,729.9 L528.2,759.3 M522.2,729.9 L534.2,729.9 M522.2,735.8 L534.2,735.8 M522.2,741.7 L534.2,741.7 M522.2,747.6 L534.2,747.6 M522.2,753.5 L534.2,753.5 M522.2,759.4 L534.2,759.4" stroke="#f0f0f0" stroke-width="1" fill="none" opacity="0.72"/>
<path d="M551.1,729.9 L551.1,759.3 M545.1,729.9 L557.1,729.9 M545.1,735.8 L557.1,735.8 M545.1,741.7 L557.1,741.7 M545.1,747.6 L557.1,747.6 M545.1,753.5 L557.1,753.5 M545.1,759.4 L557.1,759.4" stroke="#f0f0f0" stroke-width="1" fill="none" opacity="0.72"/>
<path d="M607.1,729.9 L607.1,759.3 M601.1,729.9 L613.1,729.9 M601.1,735.8 L613.1,735.8 M601.1,741.7 L613.1,741.7 M601.1,747.6 L613.1,747.6 M601.1,753.5 L613.1,753.5 M601.1,759.4 L613.1,759.4" stroke="#f0f0f0" stroke-width="1" fill="none" opacity="0.72"/>
<path d="M630.0,729.9 L630.0,759.3 M624.0,729.9 L636.0,729.9 M624.0,735.8 L636.0,735.8 M624.0,741.7 L636.0,741.7 M624.0,747.6 L636.0,747.6 M624.0,753.5 L636.0,753.5 M624.0,759.4 L636.0,759.4" stroke="#f0f0f0" stroke-width="1" fill="none" opacity="0.72"/>
<path d="M652.9,729.9 L652.9,759.3 M646.9,729.9 L658.9,729.9 M646.9,735.8 L658.9,735.8 M646.9,741.7 L658.9,741.7 M646.9,747.6 L658.9,747.6 M646.9,753.5 L658.9,753.5 M646.9,759.4 L658.9,759.4" stroke="#f0f0f0" stroke-width="1" fill="none" opacity="0.72"/>
<path d="M675.8,729.9 L675.8,759.3 M669.8,729.9 L681.8,729.9 M669.8,735.8 L681.8,735.8 M669.8,741.7 L681.8,741.7 M669.8,747.6 L681.8,747.6 M669.8,753.5 L681.8,753.5 M669.8,759.4 L681.8,759.4" stroke="#f0f0f0" stroke-width="1" fill="none" opacity="0.72"/>
<path d="M698.7,729.9 L698.7,759.3 M692.7,729.9 L704.7,729.9 M692.7,735.8 L704.7,735.8 M692.7,741.7 L704.7,741.7 M692.7,747.6 L704.7,747.6 M692.7,753.5 L704.7,753.5 M692.7,759.4 L704.7,759.4" stroke="#f0f0f0" stroke-width="1" fill="none" opacity="0.72"/>
<path d="M721.6,729.9 L721.6,759.3 M715.6,729.9 L727.6,729.9 M715.6,735.8 L727.6,735.8 M715.6,741.7 L727.6,741.7 M715.6,747.6 L727.6,747.6 M715.6,753.5 L727.6,753.5 M715.6,759.4 L727.6,759.4" stroke="#f0f0f0" stroke-width="1" fill="none" opacity="0.72"/>
<path d="M744.5,729.9 L744.5,759.3 M738.5,729.9 L750.5,729.9 M738.5,735.8 L750.5,735.8 M738.5,741.7 L750.5,741.7 M738.5,747.6 L750.5,747.6 M738.5,753.5 L750.5,753.5 M738.5,759.4 L750.5,759.4" stroke="#f0f0f0" stroke-width="1" fill="none" opacity="0.72"/>
<path d="M767.4,729.9 L767.4,759.3 M761.4,729.9 L773.4,729.9 M761.4,735.8 L773.4,735.8 M761.4,741.7 L773.4,741.7 M761.4,747.6 L773.4,747.6 M761.4,753.5 L773.4,753.5 M761.4,759.4 L773.4,759.4" stroke="#f0f0f0" stroke-width="1" fill="none" opacity="0.72"/>
<path d="M819.0,729.9 L819.0,759.3 M813.0,729.9 L825.0,729.9 M813.0,735.8 L825.0,735.8 M813.0,741.7 L825.0,741.7 M813.0,747.6 L825.0,747.6 M813.0,753.5 L825.0,753.5 M813.0,759.4 L825.0,759.4" stroke="#f0f0f0" stroke-width="1" fill="none" opacity="0.72"/>
<path d="M843.2,729.9 L843.2,759.3 M837.2,729.9 L849.2,729.9 M837.2,735.8 L849.2,735.8 M837.2,741.7 L849.2,741.7 M837.2,747.6 L849.2,747.6 M837.2,753.5 L849.2,753.5 M837.2,759.4 L849.2,759.4" stroke="#f0f0f0" stroke-width="1" fill="none" opacity="0.72"/>
<path d="M867.4,729.9 L867.4,759.3 M861.4,729.9 L873.4,729.9 M861.4,735.8 L873.4,735.8 M861.4,741.7 L873.4,741.7 M861.4,747.6 L873.4,747.6 M861.4,753.5 L873.4,753.5 M861.4,759.4 L873.4,759.4" stroke="#f0f0f0" stroke-width="1" fill="none" opacity="0.72"/>
<path d="M891.6,729.9 L891.6,759.3 M885.6,729.9 L897.6,729.9 M885.6,735.8 L897.6,735.8 M885.6,741.7 L897.6,741.7 M885.6,747.6 L897.6,747.6 M885.6,753.5 L897.6,753.5 M885.6,759.4 L897.6,759.4" stroke="#f0f0f0" stroke-width="1" fill="none" opacity="0.72"/>
<path d="M915.8,729.9 L915.8,759.3 M909.8,729.9 L921.8,729.9 M909.8,735.8 L921.8,735.8 M909.8,741.7 L921.8,741.7 M909.8,747.6 L921.8,747.6 M909.8,753.5 L921.8,753.5 M909.8,759.4 L921.8,759.4" stroke="#f0f0f0" stroke-width="1" fill="none" opacity="0.72"/>
<path d="M940.0,729.9 L940.0,759.3 M934.0,729.9 L946.0,729.9 M934.0,735.8 L946.0,735.8 M934.0,741.7 L946.0,741.7 M934.0,747.6 L946.0,747.6 M934.0,753.5 L946.0,753.5 M934.0,759.4 L946.0,759.4" stroke="#f0f0f0" stroke-width="1" fill="none" opacity="0.72"/>
<path d="M964.2,729.9 L964.2,759.3 M958.2,729.9 L970.2,729.9 M958.2,735.8 L970.2,735.8 M958.2,741.7 L970.2,741.7 M958.2,747.6 L970.2,747.6 M958.2,753.5 L970.2,753.5 M958.2,759.4 L970.2,759.4" stroke="#f0f0f0" stroke-width="1" fill="none" opacity="0.72"/>
<path d="M988.4,729.9 L988.4,759.3 M982.4,729.9 L994.4,729.9 M982.4,735.8 L994.4,735.8 M982.4,741.7 L994.4,741.7 M982.4,747.6 L994.4,747.6 M982.4,753.5 L994.4,753.5 M982.4,759.4 L994.4,759.4" stroke="#f0f0f0" stroke-width="1" fill="none" opacity="0.72"/>
<path d="M1012.6,729.9 L1012.6,759.3 M1006.6,729.9 L1018.6,729.9 M1006.6,735.8 L1018.6,735.8 M1006.6,741.7 L1018.6,741.7 M1006.6,747.6 L1018.6,747.6 M1006.6,753.5 L1018.6,753.5 M1006.6,759.4 L1018.6,759.4" stroke="#f0f0f0" stroke-width="1" fill="none" opacity="0.72"/>
<path d="M1036.8,729.9 L1036.8,759.3 M1030.8,729.9 L1042.8,729.9 M1030.8,735.8 L1042.8,735.8 M1030.8,741.7 L1042.8,741.7 M1030.8,747.6 L1042.8,747.6 M1030.8,753.5 L1042.8,753.5 M1030.8,759.4 L1042.8,759.4" stroke="#f0f0f0" stroke-width="1" fill="none" opacity="0.72"/>
<path d="M1061.0,729.9 L1061.0,759.3 M1055.0,729.9 L1067.0,729.9 M1055.0,735.8 L1067.0,735.8 M1055.0,741.7 L1067.0,741.7 M1055.0,747.6 L1067.0,747.6 M1055.0,753.5 L1067.0,753.5 M1055.0,759.4 L1067.0,759.4" stroke="#f0f0f0" stroke-width="1" fill="none" opacity="0.72"/>
<path d="M1085.2,729.9 L1085.2,759.3 M1079.2,729.9 L1091.2,729.9 M1079.2,735.8 L1091.2,735.8 M1079.2,741.7 L1091.2,741.7 M1079.2,747.6 L1091.2,747.6 M1079.2,753.5 L1091.2,753.5 M1079.2,759.4 L1091.2,759.4" stroke="#f0f0f0" stroke-width="1" fill="none" opacity="0.72"/>
<rect x="137" y="732.6" width="9" height="26" fill="#d6d6d6" />
<rect x="154" y="697.6" width="13" height="61" fill="#d6d6d6" />
<rect x="207" y="722" width="22" height="36.5" fill="#d6d6d6" />
<rect x="739" y="633.5" width="6.7" height="14.7" fill="#d6d6d6" />
<rect x="766.5" y="633.5" width="6.7" height="14.7" fill="#d6d6d6" />
<rect x="739" y="654.9" width="6.7" height="14.7" fill="#d6d6d6" />
<rect x="766.5" y="654.9" width="6.7" height="14.7" fill="#d6d6d6" />
<rect x="739" y="676.2" width="6.7" height="14.7" fill="#d6d6d6" />
<rect x="766.5" y="676.2" width="6.7" height="14.7" fill="#d6d6d6" />
<rect x="739" y="697.6" width="6.7" height="14.7" fill="#d6d6d6" />
<rect x="766.5" y="697.6" width="6.7" height="14.7" fill="#d6d6d6" />
<rect x="883.8" y="633" width="49.4" height="22.8" fill="#d6d6d6" />
<rect x="924" y="677.7" width="9.2" height="34.5" fill="#d6d6d6" />
<rect x="904.3" y="689" width="8.5" height="23.2" fill="#d6d6d6" />
<rect x="883.8" y="697.6" width="8.2" height="14.6" fill="#d6d6d6" />
<rect x="1114.8" y="721" width="48" height="15" fill="#d6d6d6" />
<defs><filter id="blur6" x="-10%" y="-10%" width="120%" height="120%"><feGaussianBlur stdDeviation="7"/></filter><filter id="blur3" x="-10%" y="-10%" width="120%" height="120%"><feGaussianBlur stdDeviation="3"/></filter><linearGradient id="wall1" x1="0" y1="0" x2="1" y2="0"><stop offset="0" stop-color="#d2d2d2"/><stop offset="1" stop-color="#a2a2a2"/></linearGradient><linearGradient id="wall2" x1="0" y1="0" x2="1" y2="0"><stop offset="0" stop-color="#9a9a9a"/><stop offset="1" stop-color="#e2e2e2"/></linearGradient><linearGradient id="wall3" x1="0" y1="0" x2="1" y2="0"><stop offset="0" stop-color="#bdbdbd"/><stop offset="1" stop-color="#9a9a9a"/></linearGradient><linearGradient id="wall4" x1="0" y1="0" x2="1" y2="0"><stop offset="0" stop-color="#8a8a8a"/><stop offset="1" stop-color="#c2c2c2"/></linearGradient><linearGradient id="bm" x1="0" y1="0" x2="0" y2="1"><stop offset="0" stop-color="#3ab4dc"/><stop offset="1" stop-color="#c070aa"/></linearGradient><linearGradient id="fadeL" x1="0" y1="0" x2="1" y2="0"><stop offset="0" stop-color="#fff" stop-opacity="1"/><stop offset="1" stop-color="#fff" stop-opacity="0"/></linearGradient><linearGradient id="fadeR" x1="0" y1="0" x2="1" y2="0"><stop offset="0" stop-color="#fff" stop-opacity="0"/><stop offset="1" stop-color="#fff" stop-opacity="1"/></linearGradient></defs>
<defs><filter id="blur1" x="-20%" y="-20%" width="140%" height="140%"><feGaussianBlur stdDeviation="1.2"/></filter></defs>
<defs><filter id="blur2" x="-20%" y="-20%" width="140%" height="140%"><feGaussianBlur stdDeviation="2.5"/></filter></defs>
<polygon points="166,328 307,328 380,390 571,390 571,405 619,405 632,389 644,355 753,355 753,375 887,375 892,592 236,600 197,560 178,500 239,432 185,378 166,378" fill="#333" opacity="0.5" filter="url(#blur6)"/>
<rect x="937" y="416" width="150" height="172" fill="#333" opacity="0.5" filter="url(#blur6)"/>
<polygon points="261,448.5 239.3,431.4 173,499.5 197,523 197,558 236,558 236,596.6 336.6,597 336.6,585.5 398.7,584.3 398.7,597 557.7,597 557.7,589 644,589 644,573 663,573 663,596.6 713,596.6 713,587 781.6,587 781.6,375 753,375 753,355.3 644,355.3 632,389 632,453 612,437 619,430 619,404.5 598.8,404.5 598.8,409.4 571,409.4 571,389.6 376,389.6 376,404 326,404 326,353 307,353 307,448" fill="#ebebeb" stroke="#ffffff" stroke-width="2"/>
<polygon points="307,328 376,385 376,404 326,404 326,353 307,353" fill="url(#wall1)" />
<polygon points="644,356 632,389 630.2,418 624,458 644,458" fill="url(#wall2)" />
<polygon points="612,437 618.4,430 618.4,418 630.2,418 624,458 612,450" fill="#56705a" />
<polygon points="609.5,436.6 618.4,431 617,446 612,446" fill="#a9a9a9" />
<path d="M596,442 L610.6,436.6 A21.3,21.3 0 0 0 632,457.5 L644,458 L644,472 L596,472 Z" fill="#ebebeb" />
<polygon points="336.6,585.5 398.7,584.3 336.6,597.8" fill="url(#wall3)" />
<rect x="388.7" y="573.5" width="10" height="10.8" fill="url(#wall3)" />
<polygon points="644,573 663,573 663,596.6 660,596.6 644,580" fill="url(#wall2)" />
<polygon points="713,577 749,577 749,587 713,587" fill="#c4c4c4" />
<polygon points="166,328.5 307,328.5 307,448.5 261,448.5 185,373.5 166,373.5" fill="#ff9466" stroke="#ffffff" stroke-width="1.5"/>
<line x1="166" y1="373.2" x2="307" y2="373.2" stroke="#ffe0d0" stroke-width="1" />
<rect x="267" y="418.6" width="40" height="30" fill="#ffc878" />
<rect x="307.5" y="353" width="18.1" height="95.5" fill="#ffabbe" />
<rect x="333.1" y="406" width="24.8" height="43" fill="#ffabbe" />
<rect x="359.1" y="409.2" width="13.2" height="39.8" fill="#ffabbe" />
<rect x="377" y="390.8" width="46.6" height="12.7" fill="#ffabbe" />
<rect x="377" y="409.2" width="28.2" height="39.8" fill="#ffabbe" />
<rect x="406" y="409.2" width="17.8" height="39.8" fill="#ffabbe" />
<rect x="425" y="402.7" width="27.6" height="46.3" fill="#ffabbe" />
<polygon points="457,418.2 477.3,418.2 477.3,390.8 537,390.8 537,432 558.6,466.3 529.2,485 505.7,449.6 457,449.6" fill="#ffabbe" />
<polygon points="541,390.8 569.4,390.8 569.4,429 581.3,451.6 562.5,464.3 541,432" fill="#ffabbe" />
<path d="M514.5,462.4 L544,443.7 M553.7,447.6 L559.6,444.2 L568,458" fill="none" stroke="#f3d0d8" stroke-width="0.8"/>
<polygon points="570.4,409.4 598.8,409.4 598.8,404.5 618.4,404.5 618.4,430 582.2,450.6 570.4,429" fill="#3ab4dc" />
<line x1="599.3" y1="405" x2="599.3" y2="440.5" stroke="#e8f4fa" stroke-width="1" />
<path d="M599,422.5 L593.8,422.5 L593.8,443" fill="none" stroke="#e8f4fa" stroke-width="0.9"/>
<rect x="266" y="462" width="17" height="63.6" fill="#8c7dbe" />
<line x1="266" y1="470.8" x2="283" y2="470.8" stroke="#c9c0e0" stroke-width="0.8" />
<line x1="266" y1="475" x2="283" y2="475" stroke="#c9c0e0" stroke-width="0.8" />
<line x1="266" y1="479.5" x2="283" y2="479.5" stroke="#c9c0e0" stroke-width="0.8" />
<line x1="266" y1="484" x2="283" y2="484" stroke="#c9c0e0" stroke-width="0.8" />
<line x1="266" y1="491.5" x2="283" y2="491.5" stroke="#c9c0e0" stroke-width="0.8" />
<line x1="266" y1="500.5" x2="283" y2="500.5" stroke="#c9c0e0" stroke-width="0.8" />
<line x1="266" y1="510" x2="283" y2="510" stroke="#c9c0e0" stroke-width="0.8" />
<line x1="266" y1="518" x2="283" y2="518" stroke="#c9c0e0" stroke-width="0.8" />
<line x1="278.5" y1="462" x2="278.5" y2="471" stroke="#c9c0e0" stroke-width="0.8" />
<polygon points="287.4,462 353.5,462 353.5,490 334,490 334,519 306.4,519 306.4,481 287.4,481" fill="#ffc878" />
<rect x="277.7" y="513.8" width="9" height="17" fill="#ffabbe" />
<rect x="292" y="510" width="13" height="21" fill="#ffabbe" />
<rect x="335.2" y="501" width="18.4" height="29.4" fill="#ffabbe" />
<rect x="357.4" y="462" width="19.6" height="28" fill="#ffabbe" />
<rect x="357.4" y="491.8" width="19.6" height="38.6" fill="#ffabbe" />
<polygon points="378.1,462 395,469.1 395,530.4 378.1,530.4" fill="#ffabbe" />
<polygon points="396,468.5 405.1,466.6 405.1,530.4 396,530.4" fill="#ffabbe" />
<polygon points="406,466.2 424,462 433.6,462 433.6,491.2 442.2,491.2 442.2,530.4 406,530.4" fill="#ffabbe" />
<rect x="434.5" y="462" width="8.3" height="18.7" fill="#ffabbe" />
<rect x="444" y="462" width="9" height="18.7" fill="#ffabbe" />
<rect x="444" y="491.4" width="9" height="39" fill="#ffabbe" />
<rect x="371" y="518.5" width="6" height="11.9" fill="none" stroke="#f3d0d8" stroke-width="0.8"/>
<rect x="396" y="518.5" width="9" height="11.9" fill="none" stroke="#f3d0d8" stroke-width="0.8"/>
<rect x="406" y="518.5" width="5.5" height="11.9" fill="none" stroke="#f3d0d8" stroke-width="0.8"/>
<rect x="437.5" y="518.5" width="4.699999999999989" height="11.9" fill="none" stroke="#f3d0d8" stroke-width="0.8"/>
<line x1="395.5" y1="469" x2="395.5" y2="481.5" stroke="#f3d0d8" stroke-width="0.8" />
<line x1="396" y1="481.8" x2="405" y2="481.8" stroke="#f3d0d8" stroke-width="0.8" />
<rect x="306.7" y="519.7" width="8.600000000000023" height="10.7" fill="#ffabbe" />
<rect x="316" y="519.7" width="8.600000000000023" height="10.7" fill="#ffabbe" />
<rect x="325.7" y="519.7" width="8.400000000000034" height="10.7" fill="#ffabbe" />
<line x1="305.5" y1="469.1" x2="287.4" y2="469.1" stroke="#ffe2b8" stroke-width="0.8" />
<line x1="324.8" y1="462" x2="324.8" y2="490.6" stroke="#ffe2b8" stroke-width="0.8" />
<line x1="325.7" y1="472.2" x2="353.3" y2="472.2" stroke="#ffe2b8" stroke-width="0.8" />
<line x1="334.6" y1="462" x2="334.6" y2="472.2" stroke="#ffe2b8" stroke-width="0.8" />
<polygon points="455.8,462 494,462 523,500 470,531 455.8,531" fill="#ffabbe" />
<rect x="235.7" y="542.6" width="27.6" height="14.4" fill="#8c7dbe" />
<line x1="245" y1="542.6" x2="245" y2="557" stroke="#c9c0e0" stroke-width="0.8" />
<rect x="235.7" y="561.2" width="27.8" height="35.4" fill="#8c7dbe" />
<line x1="253.5" y1="542.6" x2="253.5" y2="557" stroke="#c9c0e0" stroke-width="0.8" />
<rect x="235.7" y="561.2" width="27.8" height="35.4" fill="#8c7dbe" />
<line x1="258" y1="542.6" x2="258" y2="557" stroke="#c9c0e0" stroke-width="0.8" />
<rect x="235.7" y="561.2" width="27.8" height="35.4" fill="#8c7dbe" />
<rect x="268.4" y="543" width="66.7" height="52.5" fill="#ffabbe" />
<path d="M297.5,543 L297.5,564.1 L315.2,564.1 L315.2,595.5 M306.2,543 L306.2,564.1" fill="none" stroke="#f3d0d8" stroke-width="0.8"/>
<rect x="344" y="545.7" width="8" height="26.1" fill="#ffabbe" />
<rect x="353.8" y="543" width="12.7" height="41" fill="#ffabbe" />
<rect x="368" y="543" width="18.9" height="41" fill="#ffabbe" />
<rect x="388" y="543" width="11.8" height="28.8" fill="#ffabbe" />
<rect x="401" y="543" width="33" height="52.5" fill="#ffabbe" />
<rect x="434.7" y="543" width="8.4" height="23.4" fill="#ffabbe" />
<rect x="443.9" y="543" width="8.9" height="23.4" fill="#ffabbe" />
<path d="M401,564 L414.8,564 M407.5,543 L407.5,564 M414.8,543 L414.8,564 M344,552 L352,552 M344,558.5 L352,558.5 M344,565 L352,565" fill="none" stroke="#f3d0d8" stroke-width="0.8"/>
<polygon points="457,543 470,543 523,508 540,520 556,545 556,596.6 457,596.6" fill="#ffabbe" />
<rect x="538.2" y="562.2" width="17" height="33" fill="#c070aa" />
<polygon points="175,499.5 187.5,488.4 202.5,504 190.7,515.5" fill="#8c7dbe" />
<rect x="228.6" y="477.9" width="13.1" height="12.4" fill="#8c7dbe" />
<polygon points="205,520 211,514 217.5,520.3 211.5,526.3" fill="#8c7dbe" />
<polygon points="211.6,525.5 217,520 221.4,524.4 216,530" fill="#8c7dbe" />
<polygon points="197.3,530 205,522.4 212.3,529.5 212.3,557 197.3,557" fill="#8c7dbe" />
<polygon points="216.9,535 224,527 231,534.5 231,548.5 216.9,548.5" fill="#8c7dbe" />
<polygon points="229.5,536 235.8,541.5 235.8,548.5 229.5,548.5" fill="#8c7dbe" />
<rect x="214.9" y="551.8" width="20.3" height="8.2" fill="#b8b8b8" />
<polygon points="549.6,513.2 565.9,480.7 603.2,480.7 603.2,503.6 641.5,503.6 641.5,529.5 557.2,529.5" fill="#c070aa" />
<rect x="646.3" y="514.6" width="3.7" height="14.9" fill="#c070aa" />
<rect x="651" y="514.6" width="4" height="14.9" fill="#c070aa" />
<rect x="656" y="504.6" width="7.6" height="24.9" fill="#c070aa" />
<polygon points="665.5,477.8 692.3,484.5 692.3,529.5 665.5,529.5" fill="url(#bm)" />
<rect x="694.2" y="504.6" width="37.4" height="24.9" fill="#c070aa" />
<rect x="731.6" y="486" width="18.2" height="43.5" fill="url(#bm)" />
<polygon points="593.6,461.1 611.8,464.4 611.8,495 593.6,495" fill="#3ab4dc" />
<polygon points="613.8,465 641,471 641,488 622.5,488 622.5,500 613.8,500" fill="#3ab4dc" />
<polygon points="645.6,472.5 663.6,476.5 663.6,500 645.6,500" fill="#3ab4dc" />
<rect x="694" y="484" width="9" height="16" fill="#3ab4dc" />
<rect x="705" y="485" width="25" height="15" fill="#3ab4dc" />
<rect x="584" y="462.5" width="8.7" height="17.2" fill="#ffabbe" />
<polygon points="539.3,496.5 550.6,488 559.1,496.5 560.5,500.8 550.6,510.7 545,509.3" fill="#ffabbe" />
<path d="M544,493 L555,500 M548,490 L556,498 M546,505 L557,499" fill="none" stroke="#f3d0d8" stroke-width="0.8"/>
<line x1="584" y1="468" x2="592.7" y2="468" stroke="#f3d0d8" stroke-width="0.8" />
<line x1="584" y1="473.5" x2="592.7" y2="473.5" stroke="#f3d0d8" stroke-width="0.8" />
<rect x="566.8" y="547.7" width="12.5" height="6.7" fill="#c070aa" />
<rect x="579.7" y="546.7" width="11.1" height="39.3" fill="#c070aa" />
<rect x="592.1" y="543" width="26.4" height="39.2" fill="#c070aa" />
<rect x="619.5" y="543" width="22" height="16.2" fill="#c070aa" />
<rect x="645.4" y="543" width="18.7" height="26.7" fill="#c070aa" />
<path d="M665.5,543 L683.7,543 L683.7,566.9 L693.3,566.9 L693.3,543 L712.4,543 L712.4,596.6 L665.5,596.6 Z" fill="#c070aa" />
<rect x="713.4" y="543" width="18.2" height="32.5" fill="#c070aa" />
<rect x="735" y="543" width="14.2" height="37.3" fill="#c070aa" />
<path d="M750.7,486 L756,486 Q762.2,486 762.2,493 L762.2,521 Q762.2,528 756,528 L750.7,528 Z" fill="#ff88a0" />
<path d="M750.7,543 L755,543 Q762.2,543 762.2,551 L762.2,586 L750.7,586 Z" fill="#ff88a0" />
<line x1="750.7" y1="491" x2="762.2" y2="491" stroke="#ffd0da" stroke-width="0.8" />
<line x1="750.7" y1="496" x2="762.2" y2="496" stroke="#ffd0da" stroke-width="0.8" />
<line x1="750.7" y1="501" x2="762.2" y2="501" stroke="#ffd0da" stroke-width="0.8" />
<line x1="750.7" y1="506" x2="762.2" y2="506" stroke="#ffd0da" stroke-width="0.8" />
<line x1="750.7" y1="511" x2="762.2" y2="511" stroke="#ffd0da" stroke-width="0.8" />
<line x1="750.7" y1="516" x2="762.2" y2="516" stroke="#ffd0da" stroke-width="0.8" />
<line x1="750.7" y1="521" x2="762.2" y2="521" stroke="#ffd0da" stroke-width="0.8" />
<line x1="750.7" y1="548" x2="762.2" y2="548" stroke="#ffd0da" stroke-width="0.8" />
<line x1="750.7" y1="553" x2="762.2" y2="553" stroke="#ffd0da" stroke-width="0.8" />
<line x1="750.7" y1="558" x2="762.2" y2="558" stroke="#ffd0da" stroke-width="0.8" />
<line x1="750.7" y1="563" x2="762.2" y2="563" stroke="#ffd0da" stroke-width="0.8" />
<line x1="750.7" y1="568" x2="762.2" y2="568" stroke="#ffd0da" stroke-width="0.8" />
<line x1="750.7" y1="573" x2="762.2" y2="573" stroke="#ffd0da" stroke-width="0.8" />
<line x1="750.7" y1="578" x2="762.2" y2="578" stroke="#ffd0da" stroke-width="0.8" />
<line x1="750.7" y1="582" x2="762.2" y2="582" stroke="#ffd0da" stroke-width="0.8" />
<polygon points="646.8,358 689.7,358 689.7,364 692.6,364 692.6,378 698,378 698,471 655.6,461.5 655.6,408 646.8,408" fill="#3ab4dc" />
<rect x="641.5" y="423" width="12.2" height="10.2" fill="#3ab4dc" />
<polygon points="645.9,435 653.7,435 653.7,460 645.9,458" fill="#3ab4dc" />
<rect x="703.4" y="358" width="46.6" height="113.8" fill="#3ab4dc" />
<rect x="751.2" y="386.5" width="11.3" height="85" fill="#ff88a0" />
<rect x="759.1" y="377" width="5.6" height="8" fill="#ff88a0" />
<rect x="766.5" y="377" width="6.3" height="8" fill="#ff88a0" />
<line x1="751.2" y1="393" x2="762.5" y2="393" stroke="#ffd0da" stroke-width="0.8" />
<line x1="751.2" y1="400" x2="762.5" y2="400" stroke="#ffd0da" stroke-width="0.8" />
<line x1="751.2" y1="406.5" x2="762.5" y2="406.5" stroke="#ffd0da" stroke-width="0.8" />
<line x1="751.2" y1="413" x2="762.5" y2="413" stroke="#ffd0da" stroke-width="0.8" />
<line x1="751.2" y1="419.5" x2="762.5" y2="419.5" stroke="#ffd0da" stroke-width="0.8" />
<line x1="751.2" y1="426" x2="762.5" y2="426" stroke="#ffd0da" stroke-width="0.8" />
<line x1="751.2" y1="432.5" x2="762.5" y2="432.5" stroke="#ffd0da" stroke-width="0.8" />
<line x1="751.2" y1="439" x2="762.5" y2="439" stroke="#ffd0da" stroke-width="0.8" />
<line x1="751.2" y1="445.5" x2="762.5" y2="445.5" stroke="#ffd0da" stroke-width="0.8" />
<line x1="751.2" y1="452" x2="762.5" y2="452" stroke="#ffd0da" stroke-width="0.8" />
<line x1="751.2" y1="458.5" x2="762.5" y2="458.5" stroke="#ffd0da" stroke-width="0.8" />
<line x1="751.2" y1="465" x2="762.5" y2="465" stroke="#ffd0da" stroke-width="0.8" />
<line x1="612.8" y1="460" x2="612.8" y2="500.5" stroke="#ebebeb" stroke-width="1" />
<line x1="622.6" y1="460" x2="622.6" y2="500.5" stroke="#ebebeb" stroke-width="1" />
<line x1="631.5" y1="460" x2="631.5" y2="500.5" stroke="#ebebeb" stroke-width="1" />
<line x1="655.5" y1="460" x2="655.5" y2="500.5" stroke="#ebebeb" stroke-width="1" />
<line x1="693.3" y1="483" x2="693.3" y2="500.5" stroke="#ebebeb" stroke-width="1" />
<line x1="704.5" y1="483" x2="704.5" y2="500.5" stroke="#ebebeb" stroke-width="1" />
<line x1="713.8" y1="483" x2="713.8" y2="500.5" stroke="#ebebeb" stroke-width="1" />
<line x1="721.5" y1="483" x2="721.5" y2="500.5" stroke="#ebebeb" stroke-width="1" />
<line x1="603.7" y1="543" x2="603.7" y2="582.5" stroke="#ebebeb" stroke-width="1" />
<line x1="631.5" y1="543" x2="631.5" y2="559.5" stroke="#ebebeb" stroke-width="1" />
<line x1="722" y1="543" x2="722" y2="575.5" stroke="#ebebeb" stroke-width="1" />
<line x1="722" y1="504.6" x2="722" y2="529" stroke="#ebebeb" stroke-width="1" />
<rect x="736" y="519" width="6" height="10" fill="none" stroke="#d9a9cb" stroke-width="0.8"/>
<path d="M565,482 L575,482 L581,490 L581,495 L575,495 M600,495 L603.2,495 M590,505 L603,505 L603,529 M580,520 L590,520 L590,529 M575,525 L580,525 L580,529" fill="none" stroke="#d9a9cb" stroke-width="0.8"/>
<path d="M646,514.6 L646,529 M650.5,514.6 L650.5,529 M655.5,504.6 L655.5,529 M664.5,504.6 L664.5,529" fill="none" stroke="#ebebeb" stroke-width="1"/>
<path d="M252,455.7 L500,455.7" stroke-width="12.5" stroke="#ebebeb" fill="none" stroke-linejoin="round"/>
<path d="M236,537.2 L468,537.2" stroke-width="11.5" stroke="#ebebeb" fill="none" stroke-linejoin="round"/>
<path d="M499.5,455.8 L523,497 L543,523 L556,540" stroke-width="12" stroke="#ebebeb" fill="none" stroke-linejoin="round"/>
<path d="M440,536.4 L462,536.4 L523,501 L600,451 L607,446.5" stroke-width="11.5" stroke="#ebebeb" fill="none" stroke-linejoin="round"/>
<path d="M555,536.3 L781,536.3" stroke-width="13.5" stroke="#ebebeb" fill="none" stroke-linejoin="round"/>
<path d="M596,452 L701,478 L762,478" stroke-width="12" stroke="#ebebeb" fill="none" stroke-linejoin="round"/>
<path d="M561.5,543 L561.5,596" stroke-width="11" stroke="#ebebeb" fill="none" stroke-linejoin="round"/>
<path d="M452,492.8 L489,492.8" stroke-width="4" stroke="#ebebeb" fill="none" stroke-linejoin="round"/>
<rect x="781.6" y="375.5" width="105.4" height="211" fill="#ff7e98" stroke="#ffffff" stroke-width="2"/>
<line x1="781.6" y1="533.5" x2="887" y2="533.5" stroke="#ffc0cc" stroke-width="1" />
<rect x="781.6" y="533.5" width="23" height="16" fill="none" stroke="#ffc0cc" stroke-width="1"/>
<rect x="781.6" y="571.4" width="24" height="15" fill="none" stroke="#ffc0cc" stroke-width="1"/>
<line x1="874.5" y1="376" x2="874.5" y2="515" stroke="#ff8ea5" stroke-width="1" />
<text x="818.6" y="460.5" fill="#fff" font-family="Liberation Sans" font-weight="bold" font-size="21.5" textLength="44" lengthAdjust="spacingAndGlyphs">шан</text>
<text x="796.5" y="460.5" fill="#fff" font-family="Liberation Sans" font-weight="bold" font-style="italic" font-size="25" textLength="21" lengthAdjust="spacingAndGlyphs">A</text>
<path d="M799,451 Q805,447.5 811,449 L816,446 L815,450 Q810,454 803,454 Z" fill="#ff7e98" opacity="0.55"/>
<g fill="none" stroke="#fff" stroke-width="1.4"><circle cx="821.4" cy="480.1" r="9"/><ellipse cx="821.4" cy="480.1" rx="4.2" ry="9"/><line x1="821.4" y1="471.1" x2="821.4" y2="489.1"/><line x1="813" y1="477.4" x2="829.8" y2="477.4"/><line x1="813" y1="482.8" x2="829.8" y2="482.8"/></g>
<polygon points="936.8,431.5 947.5,417.7 947.5,581 936.8,570" fill="url(#wall4)" />
<rect x="947.5" y="415.8" width="135" height="166.5" fill="#ececec" />
<rect x="950.2" y="418.5" width="131" height="161" fill="#80d0a8" />
<polygon points="1018.3,487.6 989.2,516.3 1046.6,516.3" fill="#ffffff" />
<text x="0" y="0" fill="#fff" font-family="Liberation Sans" font-weight="bold" font-size="13.4" stroke="#fff" stroke-width="0.35" transform="translate(987.8,514.8) rotate(-45)" textLength="38.5" lengthAdjust="spacingAndGlyphs">LEROY</text>
<text x="0" y="0" fill="#fff" font-family="Liberation Sans" font-weight="bold" font-size="13.4" stroke="#fff" stroke-width="0.35" transform="translate(1011.8,479.2) rotate(45)" textLength="51" lengthAdjust="spacingAndGlyphs">MERLIN</text>
<rect x="1177" y="271" width="30" height="31" fill="#f7b3c2" />
<rect x="1217" y="271" width="30" height="31" fill="#94d2b4" />
<rect x="1177" y="304" width="30" height="30" fill="#b29ccc" />
<rect x="1217" y="304" width="30" height="30" fill="#10c4ee" />
<g stroke="#fff" stroke-width="3.2"><line x1="1183.5" y1="287.5" x2="1199.5" y2="287.5"/><line x1="1191.5" y1="279.5" x2="1191.5" y2="295.5"/><line x1="1183.5" y1="318.5" x2="1199.5" y2="318.5"/></g>
<text x="1220.4" y="295.5" fill="#fff" stroke="#fff" stroke-width="0.5" font-family="Liberation Sans" font-weight="bold" font-size="20.5" textLength="22.8" lengthAdjust="spacingAndGlyphs">TK</text>
<text x="1226.5" y="326" fill="#fff" font-family="Liberation Sans" font-weight="bold" font-size="20">P</text>
<text x="227.5" y="403.7" fill="#fff" font-family="Liberation Serif" font-weight="bold" font-size="20.5" stroke="#fff" stroke-width="1.2" textLength="69" lengthAdjust="spacingAndGlyphs">WESTERN PARK</text>
<text x="637" y="801.5" fill="#222" font-family="Liberation Sans" font-weight="bold" font-size="12" letter-spacing="0.4">ЮЖНОЕ ШОССЕ</text>
<text x="294.5" y="490.5" fill="#111" font-family="Liberation Sans" font-weight="bold" font-size="8" text-anchor="middle">WC</text>
<text x="771" y="398" fill="#111" font-family="Liberation Sans" font-weight="bold" font-size="8" text-anchor="middle">WC</text>
<text x="630.5" y="499.5" fill="#111" font-family="Liberation Sans" font-weight="bold" font-size="8" text-anchor="middle">WC</text>
<rect x="326.1" y="395.4" width="14" height="9.0" rx="2" fill="#666" opacity="0.28"/>
<path d="M330.6,395.4 L328.1,395.4 Q326.1,395.4 326.1,397.4 L326.1,402.4 Q326.1,404.4 328.1,404.4 L338.1,404.4 Q340.1,404.4 340.1,402.4 L340.1,397.4 Q340.1,395.4 338.1,395.4 L335.6,395.4 M333.1,390.4 L333.1,401.4 M329.90000000000003,398.2 L333.1,401.4 L336.3,398.2" fill="none" stroke="#2a2a2a" stroke-width="1.6" stroke-linecap="round" stroke-linejoin="round"/>
<rect x="629" y="409.5" width="14" height="9.0" rx="2" fill="#666" opacity="0.28"/>
<path d="M633.5,409.5 L631,409.5 Q629,409.5 629,411.5 L629,416.5 Q629,418.5 631,418.5 L641,418.5 Q643,418.5 643,416.5 L643,411.5 Q643,409.5 641,409.5 L638.5,409.5 M636,404.5 L636,415.5 M632.8,412.3 L636,415.5 L639.2,412.3" fill="none" stroke="#2a2a2a" stroke-width="1.6" stroke-linecap="round" stroke-linejoin="round"/>
<rect x="769" y="366.5" width="14" height="9.0" rx="2" fill="#666" opacity="0.28"/>
<path d="M773.5,366.5 L771,366.5 Q769,366.5 769,368.5 L769,373.5 Q769,375.5 771,375.5 L781,375.5 Q783,375.5 783,373.5 L783,368.5 Q783,366.5 781,366.5 L778.5,366.5 M776,361.5 L776,372.5 M772.8,369.3 L776,372.5 L779.2,369.3" fill="none" stroke="#2a2a2a" stroke-width="1.6" stroke-linecap="round" stroke-linejoin="round"/>
<rect x="337.5" y="573.3" width="14" height="10.0" rx="2" fill="#666" opacity="0.28"/>
<path d="M342.0,583.3 L339.5,583.3 Q337.0,583.3 337.0,580.8 L337.0,575.8 Q337.0,573.3 339.5,573.3 L349.5,573.3 Q352.0,573.3 352.0,575.8 L352.0,580.8 Q352.0,583.3 349.5,583.3 L347.0,583.3 M344.5,586.8 L344.5,575.8 M341.3,579.0 L344.5,575.8 L347.7,579.0" fill="none" stroke="#2a2a2a" stroke-width="1.6" stroke-linecap="round" stroke-linejoin="round"/>
<rect x="560.5" y="588.8" width="14" height="10.0" rx="2" fill="#666" opacity="0.28"/>
<path d="M565.0,598.8 L562.5,598.8 Q560.0,598.8 560.0,596.3 L560.0,591.3 Q560.0,588.8 562.5,588.8 L572.5,588.8 Q575.0,588.8 575.0,591.3 L575.0,596.3 Q575.0,598.8 572.5,598.8 L570.0,598.8 M567.5,602.3 L567.5,591.3 M564.3,594.5 L567.5,591.3 L570.7,594.5" fill="none" stroke="#2a2a2a" stroke-width="1.6" stroke-linecap="round" stroke-linejoin="round"/>
<rect x="764.9" y="588.8" width="14" height="10.0" rx="2" fill="#666" opacity="0.28"/>
<path d="M769.4,598.8 L766.9,598.8 Q764.4,598.8 764.4,596.3 L764.4,591.3 Q764.4,588.8 766.9,588.8 L776.9,588.8 Q779.4,588.8 779.4,591.3 L779.4,596.3 Q779.4,598.8 776.9,598.8 L774.4,598.8 M771.9,602.3 L771.9,591.3 M768.6999999999999,594.5 L771.9,591.3 L775.1,594.5" fill="none" stroke="#2a2a2a" stroke-width="1.6" stroke-linecap="round" stroke-linejoin="round"/>
<g transform="translate(190.4,524.3) rotate(45)"><path d="M-7,-3 L-7,5 Q-7,7 -5,7 L5,7 Q7,7 7,5 L7,-3 Q7,-5 5,-5 L3,-5 M-3,-5 L-5,-5 Q-7,-5 -7,-3 M0,11 L0,-4 M-3.5,-0.5 L0,-4 L3.5,-0.5" fill="none" stroke="#222" stroke-width="1.3" stroke-linecap="round" stroke-linejoin="round"/></g>
<path d="M649,408 L655,410.5 L655,416 Q655,421 649,424 Q643,421 643,416 L643,410.5 Z M646,416 L648.5,418.5 L652,413.5" fill="#fff" stroke="#333" stroke-width="1"/>
<g fill="none" stroke="#1e1e1e" stroke-width="2.8"><circle cx="523" cy="500.8" r="19.3"/><line x1="537" y1="515" x2="551.5" y2="531.5"/></g>
<g stroke="#1e1e1e" stroke-width="2.6"><line x1="523" y1="492" x2="523" y2="509"/><line x1="515.5" y1="500.8" x2="531.5" y2="500.8"/></g>
<circle cx="516.2" cy="505" r="4.4" fill="#ececec" stroke="#333" stroke-width="1"/><text x="516.2" y="508" font-family="Liberation Sans" font-size="7.5" text-anchor="middle" fill="#333">i</text>
<g fill="none" stroke="#1e1e1e" stroke-width="1.4"><circle cx="188" cy="433" r="12.6"/><path d="M181,435.5 Q181.5,441.5 188,441.5 Q194.5,441.5 195,435.5"/></g><circle cx="182.3" cy="430.5" r="1" fill="#222"/><circle cx="194" cy="430.5" r="1" fill="#222"/>
<text x="200" y="423.5" font-family="Liberation Sans" font-size="4.5" fill="#333">®</text><rect x="180" y="449.5" width="17" height="0.9" fill="#444"/>
<path d="M135.5,401.4 L159.7,401.4 L170,423.2 L165,425 L156.5,407.5 L143.6,407.5 L143.6,441.6 L135.5,441.6 Z" fill="#c7c7c7" stroke="#9a9a9a" stroke-width="0.6"/>
<g fill="none" stroke="#1e1e1e" stroke-width="1"><path d="M229.3,497 L229.3,508.5 Q229.3,509.3 230.5,509.3 Q231.7,509.3 231.7,508.5 L231.7,503 Q232.6,501 232.6,498.5 Q232.6,496.5 230.6,496.5 Q229.3,496.5 229.3,497 Z"/><path d="M234.2,496.8 L234.2,508.5 Q234.2,509.3 235.4,509.3 Q236.6,509.3 236.6,508.5 L236.6,496.8 Z"/><path d="M238.9,502 L238.9,508.5 Q238.9,509.3 240,509.3 Q241.1,509.3 241.1,508.5 L241.1,502 Q242.3,500.5 242.3,499 Q242.3,496.3 240,496.3 Q237.7,496.3 237.7,499 Q237.7,500.5 238.9,502 Z"/></g>
<rect x="292.5" y="496" width="4" height="9" rx="1" fill="#fff" stroke="#222" stroke-width="0.9"/><rect x="293.5" y="493" width="2" height="3" fill="#222"/>
<rect x="639.5" y="491.5" width="4" height="10" rx="1" fill="#fff" stroke="#222" stroke-width="0.9"/><rect x="640.5" y="489.3" width="2" height="2.2" fill="#222"/>
<path d="M340,553 Q342,551 340,550 M340,555 L334.5,560 L345.5,560 Z" fill="none" stroke="#222" stroke-width="1"/>
<path d="M684,559.5 L686.8,559.5 L686.8,556.8 L689.6,556.8 L689.6,554.1 L692.4,554.1 L692.4,552.4" fill="none" stroke="#222" stroke-width="1.1"/>
<g fill="none" stroke="#111" stroke-width="1.8" stroke-linecap="round" stroke-linejoin="round"><path d="M684.5,473 L688.5,473 L697,464.5 L701.5,464.5 Q704.5,464.5 704.5,467.5 Q704.5,470.5 701.5,470.5 L699,470.5 L690.5,479 L684.5,479 Q681.5,479 681.5,476 Q681.5,473 684.5,473 Z"/><circle cx="690.5" cy="461.8" r="1.9"/><path d="M690.5,464 L690.5,470"/></g><path d="M698,476 L701.5,471.5 L705,476 L703,476 L703,480 L700,480 L700,476 Z" fill="#fff" stroke="#111" stroke-width="1"/>
<g fill="none" stroke="#1e1e1e" stroke-width="1.5"><circle cx="186" cy="738.2" r="13.3"/><circle cx="186" cy="738.2" r="9.3" stroke-width="1.3"/><circle cx="186" cy="738.2" r="2.9" stroke-width="1.2"/><path d="M186.0,735.3 Q188.3,732.0 186.9,729.2"/><path d="M188.8,737.3 Q192.6,738.4 194.8,736.3"/><path d="M187.7,740.6 Q187.8,744.6 190.6,746.0"/><path d="M184.3,740.6 Q180.5,741.9 180.0,744.9"/><path d="M183.2,737.3 Q180.8,734.1 177.7,734.6"/></g>
<text x="200.3" y="728.9000000000001" font-family="Liberation Sans" font-size="5" fill="#333">BS</text><rect x="183" y="755.0" width="6" height="1" fill="#555"/>
<g fill="none" stroke="#1e1e1e" stroke-width="1.5"><circle cx="1138.5" cy="695.8" r="13.3"/><circle cx="1138.5" cy="695.8" r="9.3" stroke-width="1.3"/><circle cx="1138.5" cy="695.8" r="2.9" stroke-width="1.2"/><path d="M1138.5,692.9 Q1140.8,689.6 1139.4,686.8"/><path d="M1141.3,694.9 Q1145.1,696.0 1147.3,693.9"/><path d="M1140.2,698.2 Q1140.3,702.2 1143.1,703.6"/><path d="M1136.8,698.2 Q1133.0,699.5 1132.5,702.5"/><path d="M1135.7,694.9 Q1133.3,691.7 1130.2,692.2"/></g>
<text x="1152.8" y="686.5" font-family="Liberation Sans" font-size="5" fill="#333">BS</text><rect x="1135.5" y="712.5999999999999" width="6" height="1" fill="#555"/>
<g fill="none" stroke="#222" stroke-width="1.4" stroke-linejoin="round"><path d="M756,666.5 Q750,662 746,666 Q742.5,671 745,678 Q748,685.5 752.5,685 Q755,684 756,684.5 Q757,684 759.5,685 Q764,685.5 767,678 Q769.5,671 766,666 Q762,662 756,666.5 Z"/><path d="M756,666.5 Q757,662 759.5,659.5"/><path d="M755,664.5 Q748,664 747.5,657.8 Q754,657.8 755,664.5 Z"/></g>
<rect x="752" y="688" width="8" height="1" fill="#555"/><text x="762" y="661" font-family="Liberation Sans" font-size="5" fill="#333">Ш</text>
<g fill="none" stroke="#222" stroke-width="1.3" stroke-linejoin="round"><circle cx="891.7" cy="660.2" r="2"/><circle cx="899.3" cy="660.2" r="2"/><circle cx="907" cy="660.2" r="2"/><path d="M888.5,665 L888.5,677 Q888.5,684.5 899.5,684.5 Q910.5,684.5 910.5,677 L910.5,665 Q902,667.5 899.5,676 Q897,667.5 888.5,665 Z"/><path d="M891.7,662.2 Q899,672 902.5,684.5 M907,662.2 Q900,672 896.5,684.5 M899.3,662.2 L899.3,676"/></g>
<rect x="891" y="688" width="17" height="0.9" fill="#555"/><text x="910" y="661" font-family="Liberation Sans" font-size="5" fill="#333">Ш</text>
<g fill="none" stroke="#222" stroke-width="1.5" stroke-linejoin="round"><path d="M639.7,709.5 L639.7,661.5 Q639.7,659.5 642,659.5 Q644.3,659.5 644.3,661.5 L644.3,709.5"/><path d="M635.5,713.6 Q635.5,709.5 639.5,709.5 L644.5,709.5 Q648.5,709.5 648.5,713.6 Z"/><path d="M644.3,668.7 L649.2,668.7 M644.3,685.4 L649.2,685.4"/><rect x="649.2" y="662.5" width="18.9" height="29.5"/><path d="M655.9,678 L655.9,668.2 L659,668.2 Q662.2,668.2 662.2,671.3 Q662.2,674.4 659,674.4 L655.9,674.4 M654.7,682 L662.7,682 M652.4,686.7 L664.6,686.7" stroke-width="1.6"/></g>
<g fill="none" stroke="#222" stroke-width="1.3" stroke-linejoin="round"><rect x="392" y="772.1" width="8" height="19" rx="3.5"/><circle cx="396" cy="776.6" r="1.7"/><circle cx="396" cy="781.6" r="1.7"/><circle cx="396" cy="786.6" r="1.7"/><path d="M392,775.1 L389.7,775.1 L392,778.6 M400,775.1 L402.3,775.1 L400,778.6 M392,780.1 L389.7,780.1 L392,783.6 M400,780.1 L402.3,780.1 L400,783.6"/></g>
<g fill="none" stroke="#222" stroke-width="1.3" stroke-linejoin="round"><rect x="392" y="840.8" width="8" height="19" rx="3.5"/><circle cx="396" cy="845.3" r="1.7"/><circle cx="396" cy="850.3" r="1.7"/><circle cx="396" cy="855.3" r="1.7"/><path d="M392,843.8 L389.7,843.8 L392,847.3 M400,843.8 L402.3,843.8 L400,847.3 M392,848.8 L389.7,848.8 L392,852.3 M400,848.8 L402.3,848.8 L400,852.3"/></g>
<g fill="none" stroke="#222" stroke-width="1.2"><rect x="340.3" y="781.5" width="26" height="11" rx="2.5" fill="#c8c8c8"/><rect x="344.3" y="784.0" width="7" height="4"/><rect x="352.3" y="784.0" width="7" height="4"/><circle cx="345.3" cy="793.0" r="2" fill="#c8c8c8"/><circle cx="361.3" cy="793.0" r="2" fill="#c8c8c8"/></g>
<g fill="none" stroke="#222" stroke-width="1.2"><rect x="550.8" y="846.4" width="26" height="11" rx="2.5" fill="#c8c8c8"/><rect x="554.8" y="848.9" width="7" height="4"/><rect x="562.8" y="848.9" width="7" height="4"/><circle cx="555.8" cy="857.9" r="2" fill="#c8c8c8"/><circle cx="571.8" cy="857.9" r="2" fill="#c8c8c8"/></g>
<line x1="373" y1="788" x2="390.2" y2="788" stroke="#f2f2f2" stroke-width="1.6" />
<line x1="373" y1="791.2" x2="390.2" y2="791.2" stroke="#f2f2f2" stroke-width="1.6" />
<line x1="373" y1="794.4" x2="390.2" y2="794.4" stroke="#f2f2f2" stroke-width="1.6" />
<line x1="373" y1="797.6" x2="390.2" y2="797.6" stroke="#f2f2f2" stroke-width="1.6" />
<line x1="373" y1="800.8" x2="390.2" y2="800.8" stroke="#f2f2f2" stroke-width="1.6" />
<line x1="373" y1="834.5" x2="390.2" y2="834.5" stroke="#f2f2f2" stroke-width="1.6" />
<line x1="373" y1="837.7" x2="390.2" y2="837.7" stroke="#f2f2f2" stroke-width="1.6" />
<line x1="373" y1="840.9" x2="390.2" y2="840.9" stroke="#f2f2f2" stroke-width="1.6" />
<line x1="373" y1="844.1" x2="390.2" y2="844.1" stroke="#f2f2f2" stroke-width="1.6" />
<path d="M272.8,797.3 L232.3,797.3 M237.3,794.3 L232.3,797.3 L237.3,800.3" fill="none" stroke="#333" stroke-width="1.3"/>
<path d="M231.3,840 L272.8,840 M267.8,837 L272.8,840 L267.8,843" fill="none" stroke="#333" stroke-width="1.3"/>
<path d="M994.2,797.3 L952.4,797.3 M957.4,794.3 L952.4,797.3 L957.4,800.3" fill="none" stroke="#333" stroke-width="1.3"/>
<path d="M952.4,840 L994.2,840 M989.2,837 L994.2,840 L989.2,843" fill="none" stroke="#333" stroke-width="1.3"/>
<path d="M113.4,796.6 Q96,816 110.3,840.9 M105,838 L110.3,840.9 L111,835" fill="none" stroke="#333" stroke-width="1.3"/>
<path d="M425.7,796.6 Q408,816 422.7,840.9 M417,838 L422.7,840.9 L423.5,835" fill="none" stroke="#333" stroke-width="1.3"/>
<path d="M855.5,839 Q873,816 858.5,796.6 M858.5,803 L858.5,796.6 L864,799" fill="none" stroke="#333" stroke-width="1.3"/>
<rect x="66" y="785" width="34" height="65" fill="url(#fadeL)"/>
<rect x="1208" y="825" width="34" height="25" fill="url(#fadeR)"/></svg>
</body></html>
